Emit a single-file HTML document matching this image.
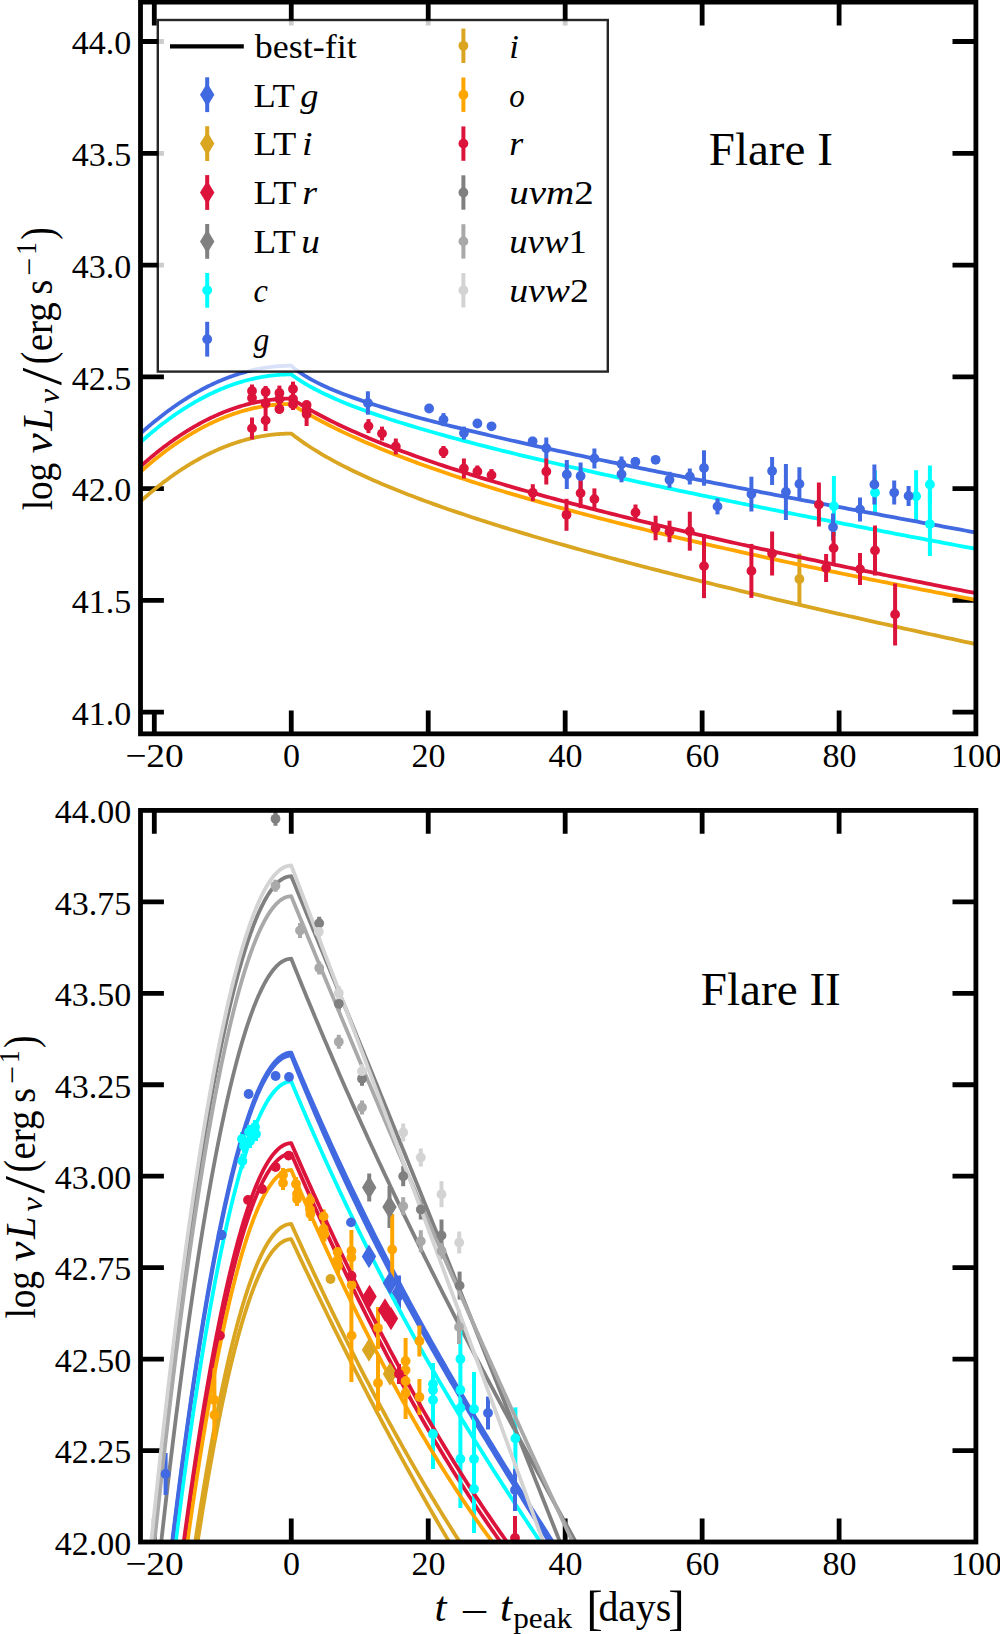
<!DOCTYPE html>
<html><head><meta charset="utf-8"><title>Flare light curves</title>
<style>html,body{margin:0;padding:0;background:#fff}svg{display:block}</style></head>
<body>
<svg width="1000" height="1634" viewBox="0 0 1000 1634">
<rect width="1000" height="1634" fill="#fff"/>
<defs><clipPath id="c1"><rect x="140.5" y="2.1" width="835.4" height="731.8"/></clipPath>
<clipPath id="c2"><rect x="140.5" y="810.4" width="835.4" height="731.6"/></clipPath></defs>
<g stroke="#000" stroke-width="4.8" fill="none"><path d="M154.30,2.10 v23.4 M154.30,733.85 v-23.4"/><path d="M291.26,2.10 v23.4 M291.26,733.85 v-23.4"/><path d="M428.22,2.10 v23.4 M428.22,733.85 v-23.4"/><path d="M565.18,2.10 v23.4 M565.18,733.85 v-23.4"/><path d="M702.14,2.10 v23.4 M702.14,733.85 v-23.4"/><path d="M839.10,2.10 v23.4 M839.10,733.85 v-23.4"/><path d="M140.50,712.21 h23.4 M975.90,712.21 h-23.4"/><path d="M140.50,600.42 h23.4 M975.90,600.42 h-23.4"/><path d="M140.50,488.64 h23.4 M975.90,488.64 h-23.4"/><path d="M140.50,376.86 h23.4 M975.90,376.86 h-23.4"/><path d="M140.50,265.07 h23.4 M975.90,265.07 h-23.4"/><path d="M140.50,153.28 h23.4 M975.90,153.28 h-23.4"/><path d="M140.50,41.50 h23.4 M975.90,41.50 h-23.4"/></g>
<g clip-path="url(#c1)">
<line x1="833.9" y1="476.1" x2="833.9" y2="536.1" stroke="#00FFFF" stroke-width="4"/>
<line x1="875.0" y1="470.6" x2="875.0" y2="514.6" stroke="#00FFFF" stroke-width="4"/>
<line x1="916.1" y1="470.2" x2="916.1" y2="522.2" stroke="#00FFFF" stroke-width="4"/>
<line x1="929.9" y1="465.5" x2="929.9" y2="503.5" stroke="#00FFFF" stroke-width="4"/>
<line x1="929.9" y1="492.1" x2="929.9" y2="556.1" stroke="#00FFFF" stroke-width="4"/>
<path d="M138.50,444.03 L139.46,443.16 L140.42,442.29 L141.38,441.43 L142.34,440.57 L143.30,439.72 L144.26,438.88 L145.23,438.04 L146.19,437.20 L147.15,436.37 L148.11,435.55 L149.07,434.73 L150.03,433.92 L150.99,433.11 L151.95,432.31 L152.91,431.51 L153.87,430.72 L154.83,429.94 L155.79,429.16 L156.75,428.39 L157.72,427.62 L158.68,426.85 L159.64,426.10 L160.60,425.35 L161.56,424.60 L162.52,423.86 L163.48,423.12 L164.44,422.39 L165.40,421.67 L166.36,420.95 L167.32,420.24 L168.28,419.53 L169.24,418.83 L170.20,418.13 L171.17,417.44 L172.13,416.75 L173.09,416.07 L174.05,415.40 L175.01,414.73 L175.97,414.06 L176.93,413.40 L177.89,412.75 L178.85,412.10 L179.81,411.46 L180.77,410.83 L181.73,410.20 L182.69,409.57 L183.66,408.95 L184.62,408.34 L185.58,407.73 L186.54,407.12 L187.50,406.53 L188.46,405.93 L189.42,405.35 L190.38,404.77 L191.34,404.19 L192.30,403.62 L193.26,403.06 L194.22,402.50 L195.18,401.94 L196.15,401.40 L197.11,400.85 L198.07,400.32 L199.03,399.78 L199.99,399.26 L200.95,398.74 L201.91,398.22 L202.87,397.71 L203.83,397.21 L204.79,396.71 L205.75,396.22 L206.71,395.73 L207.67,395.25 L208.64,394.77 L209.60,394.30 L210.56,393.83 L211.52,393.37 L212.48,392.92 L213.44,392.47 L214.40,392.03 L215.36,391.59 L216.32,391.16 L217.28,390.73 L218.24,390.31 L219.20,389.89 L220.16,389.48 L221.12,389.08 L222.09,388.68 L223.05,388.28 L224.01,387.90 L224.97,387.51 L225.93,387.14 L226.89,386.76 L227.85,386.40 L228.81,386.04 L229.77,385.68 L230.73,385.33 L231.69,384.99 L232.65,384.65 L233.61,384.32 L234.58,383.99 L235.54,383.67 L236.50,383.35 L237.46,383.04 L238.42,382.73 L239.38,382.43 L240.34,382.14 L241.30,381.85 L242.26,381.56 L243.22,381.29 L244.18,381.01 L245.14,380.75 L246.10,380.48 L247.07,380.23 L248.03,379.98 L248.99,379.73 L249.95,379.49 L250.91,379.26 L251.87,379.03 L252.83,378.81 L253.79,378.59 L254.75,378.38 L255.71,378.17 L256.67,377.97 L257.63,377.77 L258.59,377.58 L259.56,377.40 L260.52,377.22 L261.48,377.05 L262.44,376.88 L263.40,376.72 L264.36,376.56 L265.32,376.41 L266.28,376.26 L267.24,376.12 L268.20,375.99 L269.16,375.86 L270.12,375.73 L271.08,375.61 L272.04,375.50 L273.01,375.39 L273.97,375.29 L274.93,375.20 L275.89,375.11 L276.85,375.02 L277.81,374.94 L278.77,374.87 L279.73,374.80 L280.69,374.73 L281.65,374.68 L282.61,374.62 L283.57,374.58 L284.53,374.53 L285.50,374.50 L286.46,374.47 L287.42,374.44 L288.38,374.42 L289.34,374.41 L290.30,374.40 L291.26,374.40 L295.58,377.51 L299.90,380.39 L304.22,383.08 L308.53,385.62 L312.85,388.01 L317.17,390.29 L321.49,392.47 L325.81,394.56 L330.13,396.56 L334.44,398.50 L338.76,400.37 L343.08,402.18 L347.40,403.94 L351.72,405.65 L356.04,407.32 L360.36,408.94 L364.67,410.53 L368.99,412.09 L373.31,413.61 L377.63,415.11 L381.95,416.57 L386.27,418.01 L390.59,419.43 L394.90,420.82 L399.22,422.19 L403.54,423.54 L407.86,424.87 L412.18,426.18 L416.50,427.48 L420.81,428.76 L425.13,430.02 L429.45,431.27 L433.77,432.51 L438.09,433.73 L442.41,434.94 L446.73,436.14 L451.04,437.32 L455.36,438.50 L459.68,439.66 L464.00,440.81 L468.32,441.96 L472.64,443.09 L476.96,444.22 L481.27,445.33 L485.59,446.44 L489.91,447.54 L494.23,448.64 L498.55,449.72 L502.87,450.80 L507.18,451.87 L511.50,452.93 L515.82,453.99 L520.14,455.04 L524.46,456.09 L528.78,457.13 L533.10,458.16 L537.41,459.19 L541.73,460.21 L546.05,461.23 L550.37,462.24 L554.69,463.24 L559.01,464.25 L563.32,465.24 L567.64,466.24 L571.96,467.23 L576.28,468.21 L580.60,469.19 L584.92,470.17 L589.24,471.14 L593.55,472.11 L597.87,473.07 L602.19,474.03 L606.51,474.99 L610.83,475.94 L615.15,476.89 L619.47,477.84 L623.78,478.78 L628.10,479.72 L632.42,480.66 L636.74,481.59 L641.06,482.52 L645.38,483.45 L649.69,484.38 L654.01,485.30 L658.33,486.22 L662.65,487.14 L666.97,488.05 L671.29,488.96 L675.61,489.87 L679.92,490.78 L684.24,491.68 L688.56,492.58 L692.88,493.48 L697.20,494.38 L701.52,495.28 L705.84,496.17 L710.15,497.06 L714.47,497.95 L718.79,498.84 L723.11,499.72 L727.43,500.60 L731.75,501.49 L736.06,502.36 L740.38,503.24 L744.70,504.12 L749.02,504.99 L753.34,505.86 L757.66,506.73 L761.98,507.60 L766.29,508.47 L770.61,509.33 L774.93,510.19 L779.25,511.06 L783.57,511.91 L787.89,512.77 L792.20,513.63 L796.52,514.49 L800.84,515.34 L805.16,516.19 L809.48,517.04 L813.80,517.89 L818.12,518.74 L822.43,519.59 L826.75,520.43 L831.07,521.28 L835.39,522.12 L839.71,522.96 L844.03,523.80 L848.35,524.64 L852.66,525.48 L856.98,526.31 L861.30,527.15 L865.62,527.98 L869.94,528.81 L874.26,529.65 L878.57,530.48 L882.89,531.31 L887.21,532.13 L891.53,532.96 L895.85,533.79 L900.17,534.61 L904.49,535.44 L908.80,536.26 L913.12,537.08 L917.44,537.90 L921.76,538.72 L926.08,539.54 L930.40,540.36 L934.72,541.17 L939.03,541.99 L943.35,542.81 L947.67,543.62 L951.99,544.43 L956.31,545.25 L960.63,546.06 L964.94,546.87 L969.26,547.68 L973.58,548.49 L977.90,549.29" stroke="#00FFFF" stroke-width="3.8" fill="none" stroke-linejoin="round"/>
<line x1="367.9" y1="391.3" x2="367.9" y2="414.7" stroke="#4169E1" stroke-width="4"/>
<line x1="429.1" y1="406.5" x2="429.1" y2="410.5" stroke="#4169E1" stroke-width="4"/>
<line x1="443.5" y1="413.1" x2="443.5" y2="426.1" stroke="#4169E1" stroke-width="4"/>
<line x1="463.9" y1="426.6" x2="463.9" y2="439.6" stroke="#4169E1" stroke-width="4"/>
<line x1="477.4" y1="421.5" x2="477.4" y2="425.5" stroke="#4169E1" stroke-width="4"/>
<line x1="491.5" y1="424.3" x2="491.5" y2="428.3" stroke="#4169E1" stroke-width="4"/>
<line x1="532.6" y1="436.8" x2="532.6" y2="445.8" stroke="#4169E1" stroke-width="4"/>
<line x1="546.3" y1="437.5" x2="546.3" y2="458.9" stroke="#4169E1" stroke-width="4"/>
<line x1="566.8" y1="460.0" x2="566.8" y2="489.0" stroke="#4169E1" stroke-width="4"/>
<line x1="580.6" y1="462.5" x2="580.6" y2="489.5" stroke="#4169E1" stroke-width="4"/>
<line x1="594.4" y1="448.5" x2="594.4" y2="468.5" stroke="#4169E1" stroke-width="4"/>
<line x1="621.5" y1="456.5" x2="621.5" y2="471.5" stroke="#4169E1" stroke-width="4"/>
<line x1="621.5" y1="466.3" x2="621.5" y2="482.3" stroke="#4169E1" stroke-width="4"/>
<line x1="635.4" y1="457.3" x2="635.4" y2="466.3" stroke="#4169E1" stroke-width="4"/>
<line x1="655.6" y1="457.8" x2="655.6" y2="461.8" stroke="#4169E1" stroke-width="4"/>
<line x1="669.5" y1="471.8" x2="669.5" y2="487.8" stroke="#4169E1" stroke-width="4"/>
<line x1="689.8" y1="468.5" x2="689.8" y2="484.5" stroke="#4169E1" stroke-width="4"/>
<line x1="704.0" y1="450.3" x2="704.0" y2="485.7" stroke="#4169E1" stroke-width="4"/>
<line x1="717.5" y1="498.4" x2="717.5" y2="514.4" stroke="#4169E1" stroke-width="4"/>
<line x1="751.4" y1="476.7" x2="751.4" y2="511.5" stroke="#4169E1" stroke-width="4"/>
<line x1="772.1" y1="457.0" x2="772.1" y2="485.0" stroke="#4169E1" stroke-width="4"/>
<line x1="785.9" y1="464.0" x2="785.9" y2="520.0" stroke="#4169E1" stroke-width="4"/>
<line x1="799.4" y1="467.3" x2="799.4" y2="500.5" stroke="#4169E1" stroke-width="4"/>
<line x1="833.0" y1="513.6" x2="833.0" y2="540.6" stroke="#4169E1" stroke-width="4"/>
<line x1="860.0" y1="497.4" x2="860.0" y2="521.4" stroke="#4169E1" stroke-width="4"/>
<line x1="874.4" y1="464.5" x2="874.4" y2="504.5" stroke="#4169E1" stroke-width="4"/>
<line x1="894.2" y1="480.6" x2="894.2" y2="504.6" stroke="#4169E1" stroke-width="4"/>
<line x1="908.6" y1="485.9" x2="908.6" y2="505.9" stroke="#4169E1" stroke-width="4"/>
<path d="M138.50,435.33 L139.46,434.46 L140.42,433.59 L141.38,432.73 L142.34,431.87 L143.30,431.02 L144.26,430.18 L145.23,429.34 L146.19,428.50 L147.15,427.67 L148.11,426.85 L149.07,426.03 L150.03,425.22 L150.99,424.41 L151.95,423.61 L152.91,422.81 L153.87,422.02 L154.83,421.24 L155.79,420.46 L156.75,419.69 L157.72,418.92 L158.68,418.15 L159.64,417.40 L160.60,416.65 L161.56,415.90 L162.52,415.16 L163.48,414.42 L164.44,413.69 L165.40,412.97 L166.36,412.25 L167.32,411.54 L168.28,410.83 L169.24,410.13 L170.20,409.43 L171.17,408.74 L172.13,408.05 L173.09,407.37 L174.05,406.70 L175.01,406.03 L175.97,405.36 L176.93,404.70 L177.89,404.05 L178.85,403.40 L179.81,402.76 L180.77,402.13 L181.73,401.50 L182.69,400.87 L183.66,400.25 L184.62,399.64 L185.58,399.03 L186.54,398.42 L187.50,397.83 L188.46,397.23 L189.42,396.65 L190.38,396.07 L191.34,395.49 L192.30,394.92 L193.26,394.36 L194.22,393.80 L195.18,393.24 L196.15,392.70 L197.11,392.15 L198.07,391.62 L199.03,391.08 L199.99,390.56 L200.95,390.04 L201.91,389.52 L202.87,389.01 L203.83,388.51 L204.79,388.01 L205.75,387.52 L206.71,387.03 L207.67,386.55 L208.64,386.07 L209.60,385.60 L210.56,385.13 L211.52,384.67 L212.48,384.22 L213.44,383.77 L214.40,383.33 L215.36,382.89 L216.32,382.46 L217.28,382.03 L218.24,381.61 L219.20,381.19 L220.16,380.78 L221.12,380.38 L222.09,379.98 L223.05,379.58 L224.01,379.20 L224.97,378.81 L225.93,378.44 L226.89,378.06 L227.85,377.70 L228.81,377.34 L229.77,376.98 L230.73,376.63 L231.69,376.29 L232.65,375.95 L233.61,375.62 L234.58,375.29 L235.54,374.97 L236.50,374.65 L237.46,374.34 L238.42,374.03 L239.38,373.73 L240.34,373.44 L241.30,373.15 L242.26,372.86 L243.22,372.59 L244.18,372.31 L245.14,372.05 L246.10,371.78 L247.07,371.53 L248.03,371.28 L248.99,371.03 L249.95,370.79 L250.91,370.56 L251.87,370.33 L252.83,370.11 L253.79,369.89 L254.75,369.68 L255.71,369.47 L256.67,369.27 L257.63,369.07 L258.59,368.88 L259.56,368.70 L260.52,368.52 L261.48,368.35 L262.44,368.18 L263.40,368.02 L264.36,367.86 L265.32,367.71 L266.28,367.56 L267.24,367.42 L268.20,367.29 L269.16,367.16 L270.12,367.03 L271.08,366.91 L272.04,366.80 L273.01,366.69 L273.97,366.59 L274.93,366.50 L275.89,366.41 L276.85,366.32 L277.81,366.24 L278.77,366.17 L279.73,366.10 L280.69,366.03 L281.65,365.98 L282.61,365.92 L283.57,365.88 L284.53,365.83 L285.50,365.80 L286.46,365.77 L287.42,365.74 L288.38,365.72 L289.34,365.71 L290.30,365.70 L291.26,365.70 L295.58,369.34 L299.90,372.53 L304.22,375.39 L308.53,377.99 L312.85,380.40 L317.17,382.65 L321.49,384.76 L325.81,386.76 L330.13,388.67 L334.44,390.49 L338.76,392.24 L343.08,393.92 L347.40,395.55 L351.72,397.13 L356.04,398.66 L360.36,400.15 L364.67,401.61 L368.99,403.03 L373.31,404.42 L377.63,405.78 L381.95,407.12 L386.27,408.43 L390.59,409.72 L394.90,410.99 L399.22,412.23 L403.54,413.46 L407.86,414.68 L412.18,415.88 L416.50,417.06 L420.81,418.23 L425.13,419.38 L429.45,420.52 L433.77,421.65 L438.09,422.77 L442.41,423.88 L446.73,424.98 L451.04,426.07 L455.36,427.15 L459.68,428.21 L464.00,429.28 L468.32,430.33 L472.64,431.38 L476.96,432.41 L481.27,433.44 L485.59,434.47 L489.91,435.49 L494.23,436.50 L498.55,437.50 L502.87,438.50 L507.18,439.50 L511.50,440.48 L515.82,441.47 L520.14,442.44 L524.46,443.42 L528.78,444.39 L533.10,445.35 L537.41,446.31 L541.73,447.26 L546.05,448.21 L550.37,449.16 L554.69,450.10 L559.01,451.04 L563.32,451.98 L567.64,452.91 L571.96,453.84 L576.28,454.77 L580.60,455.69 L584.92,456.61 L589.24,457.52 L593.55,458.43 L597.87,459.34 L602.19,460.25 L606.51,461.15 L610.83,462.06 L615.15,462.95 L619.47,463.85 L623.78,464.74 L628.10,465.64 L632.42,466.52 L636.74,467.41 L641.06,468.30 L645.38,469.18 L649.69,470.06 L654.01,470.94 L658.33,471.81 L662.65,472.68 L666.97,473.56 L671.29,474.43 L675.61,475.29 L679.92,476.16 L684.24,477.02 L688.56,477.89 L692.88,478.75 L697.20,479.61 L701.52,480.46 L705.84,481.32 L710.15,482.17 L714.47,483.02 L718.79,483.87 L723.11,484.72 L727.43,485.57 L731.75,486.42 L736.06,487.26 L740.38,488.11 L744.70,488.95 L749.02,489.79 L753.34,490.63 L757.66,491.47 L761.98,492.30 L766.29,493.14 L770.61,493.97 L774.93,494.81 L779.25,495.64 L783.57,496.47 L787.89,497.30 L792.20,498.13 L796.52,498.95 L800.84,499.78 L805.16,500.60 L809.48,501.43 L813.80,502.25 L818.12,503.07 L822.43,503.89 L826.75,504.71 L831.07,505.53 L835.39,506.35 L839.71,507.17 L844.03,507.98 L848.35,508.80 L852.66,509.61 L856.98,510.43 L861.30,511.24 L865.62,512.05 L869.94,512.86 L874.26,513.67 L878.57,514.48 L882.89,515.29 L887.21,516.09 L891.53,516.90 L895.85,517.71 L900.17,518.51 L904.49,519.31 L908.80,520.12 L913.12,520.92 L917.44,521.72 L921.76,522.52 L926.08,523.32 L930.40,524.12 L934.72,524.92 L939.03,525.72 L943.35,526.52 L947.67,527.31 L951.99,528.11 L956.31,528.91 L960.63,529.70 L964.94,530.50 L969.26,531.29 L973.58,532.08 L977.90,532.87" stroke="#4169E1" stroke-width="3.8" fill="none" stroke-linejoin="round"/>
<line x1="799.4" y1="553.5" x2="799.4" y2="604.5" stroke="#DAA520" stroke-width="4"/>
<path d="M138.50,503.23 L139.46,502.36 L140.42,501.49 L141.38,500.63 L142.34,499.77 L143.30,498.92 L144.26,498.08 L145.23,497.24 L146.19,496.40 L147.15,495.57 L148.11,494.75 L149.07,493.93 L150.03,493.12 L150.99,492.31 L151.95,491.51 L152.91,490.71 L153.87,489.92 L154.83,489.14 L155.79,488.36 L156.75,487.59 L157.72,486.82 L158.68,486.05 L159.64,485.30 L160.60,484.55 L161.56,483.80 L162.52,483.06 L163.48,482.32 L164.44,481.59 L165.40,480.87 L166.36,480.15 L167.32,479.44 L168.28,478.73 L169.24,478.03 L170.20,477.33 L171.17,476.64 L172.13,475.95 L173.09,475.27 L174.05,474.60 L175.01,473.93 L175.97,473.26 L176.93,472.60 L177.89,471.95 L178.85,471.30 L179.81,470.66 L180.77,470.03 L181.73,469.40 L182.69,468.77 L183.66,468.15 L184.62,467.54 L185.58,466.93 L186.54,466.32 L187.50,465.73 L188.46,465.13 L189.42,464.55 L190.38,463.97 L191.34,463.39 L192.30,462.82 L193.26,462.26 L194.22,461.70 L195.18,461.14 L196.15,460.60 L197.11,460.05 L198.07,459.52 L199.03,458.98 L199.99,458.46 L200.95,457.94 L201.91,457.42 L202.87,456.91 L203.83,456.41 L204.79,455.91 L205.75,455.42 L206.71,454.93 L207.67,454.45 L208.64,453.97 L209.60,453.50 L210.56,453.03 L211.52,452.57 L212.48,452.12 L213.44,451.67 L214.40,451.23 L215.36,450.79 L216.32,450.36 L217.28,449.93 L218.24,449.51 L219.20,449.09 L220.16,448.68 L221.12,448.28 L222.09,447.88 L223.05,447.48 L224.01,447.10 L224.97,446.71 L225.93,446.34 L226.89,445.96 L227.85,445.60 L228.81,445.24 L229.77,444.88 L230.73,444.53 L231.69,444.19 L232.65,443.85 L233.61,443.52 L234.58,443.19 L235.54,442.87 L236.50,442.55 L237.46,442.24 L238.42,441.93 L239.38,441.63 L240.34,441.34 L241.30,441.05 L242.26,440.76 L243.22,440.49 L244.18,440.21 L245.14,439.95 L246.10,439.68 L247.07,439.43 L248.03,439.18 L248.99,438.93 L249.95,438.69 L250.91,438.46 L251.87,438.23 L252.83,438.01 L253.79,437.79 L254.75,437.58 L255.71,437.37 L256.67,437.17 L257.63,436.97 L258.59,436.78 L259.56,436.60 L260.52,436.42 L261.48,436.25 L262.44,436.08 L263.40,435.92 L264.36,435.76 L265.32,435.61 L266.28,435.46 L267.24,435.32 L268.20,435.19 L269.16,435.06 L270.12,434.93 L271.08,434.81 L272.04,434.70 L273.01,434.59 L273.97,434.49 L274.93,434.40 L275.89,434.31 L276.85,434.22 L277.81,434.14 L278.77,434.07 L279.73,434.00 L280.69,433.93 L281.65,433.88 L282.61,433.82 L283.57,433.78 L284.53,433.73 L285.50,433.70 L286.46,433.67 L287.42,433.64 L288.38,433.62 L289.34,433.61 L290.30,433.60 L291.26,433.60 L295.58,436.91 L299.90,440.06 L304.22,443.07 L308.53,445.97 L312.85,448.75 L317.17,451.43 L321.49,454.02 L325.81,456.53 L330.13,458.97 L334.44,461.33 L338.76,463.63 L343.08,465.87 L347.40,468.06 L351.72,470.19 L356.04,472.27 L360.36,474.31 L364.67,476.31 L368.99,478.27 L373.31,480.19 L377.63,482.08 L381.95,483.93 L386.27,485.75 L390.59,487.54 L394.90,489.30 L399.22,491.04 L403.54,492.75 L407.86,494.44 L412.18,496.10 L416.50,497.74 L420.81,499.36 L425.13,500.96 L429.45,502.54 L433.77,504.10 L438.09,505.64 L442.41,507.17 L446.73,508.68 L451.04,510.18 L455.36,511.66 L459.68,513.12 L464.00,514.57 L468.32,516.01 L472.64,517.43 L476.96,518.84 L481.27,520.24 L485.59,521.63 L489.91,523.00 L494.23,524.37 L498.55,525.72 L502.87,527.07 L507.18,528.40 L511.50,529.72 L515.82,531.04 L520.14,532.34 L524.46,533.64 L528.78,534.93 L533.10,536.21 L537.41,537.48 L541.73,538.74 L546.05,540.00 L550.37,541.24 L554.69,542.48 L559.01,543.72 L563.32,544.94 L567.64,546.16 L571.96,547.37 L576.28,548.58 L580.60,549.78 L584.92,550.97 L589.24,552.16 L593.55,553.34 L597.87,554.52 L602.19,555.69 L606.51,556.86 L610.83,558.02 L615.15,559.17 L619.47,560.32 L623.78,561.46 L628.10,562.60 L632.42,563.74 L636.74,564.87 L641.06,566.00 L645.38,567.12 L649.69,568.23 L654.01,569.35 L658.33,570.45 L662.65,571.56 L666.97,572.66 L671.29,573.75 L675.61,574.84 L679.92,575.93 L684.24,577.02 L688.56,578.10 L692.88,579.18 L697.20,580.25 L701.52,581.32 L705.84,582.39 L710.15,583.45 L714.47,584.51 L718.79,585.57 L723.11,586.62 L727.43,587.67 L731.75,588.72 L736.06,589.76 L740.38,590.80 L744.70,591.84 L749.02,592.88 L753.34,593.91 L757.66,594.94 L761.98,595.96 L766.29,596.99 L770.61,598.01 L774.93,599.03 L779.25,600.05 L783.57,601.06 L787.89,602.07 L792.20,603.08 L796.52,604.09 L800.84,605.09 L805.16,606.09 L809.48,607.09 L813.80,608.09 L818.12,609.09 L822.43,610.08 L826.75,611.07 L831.07,612.06 L835.39,613.04 L839.71,614.03 L844.03,615.01 L848.35,615.99 L852.66,616.97 L856.98,617.94 L861.30,618.92 L865.62,619.89 L869.94,620.86 L874.26,621.83 L878.57,622.80 L882.89,623.76 L887.21,624.72 L891.53,625.69 L895.85,626.65 L900.17,627.60 L904.49,628.56 L908.80,629.51 L913.12,630.47 L917.44,631.42 L921.76,632.37 L926.08,633.32 L930.40,634.26 L934.72,635.21 L939.03,636.15 L943.35,637.09 L947.67,638.03 L951.99,638.97 L956.31,639.91 L960.63,640.84 L964.94,641.78 L969.26,642.71 L973.58,643.64 L977.90,644.57" stroke="#DAA520" stroke-width="3.8" fill="none" stroke-linejoin="round"/>

<path d="M138.50,473.63 L139.46,472.76 L140.42,471.89 L141.38,471.03 L142.34,470.17 L143.30,469.32 L144.26,468.48 L145.23,467.64 L146.19,466.80 L147.15,465.97 L148.11,465.15 L149.07,464.33 L150.03,463.52 L150.99,462.71 L151.95,461.91 L152.91,461.11 L153.87,460.32 L154.83,459.54 L155.79,458.76 L156.75,457.99 L157.72,457.22 L158.68,456.45 L159.64,455.70 L160.60,454.95 L161.56,454.20 L162.52,453.46 L163.48,452.72 L164.44,451.99 L165.40,451.27 L166.36,450.55 L167.32,449.84 L168.28,449.13 L169.24,448.43 L170.20,447.73 L171.17,447.04 L172.13,446.35 L173.09,445.67 L174.05,445.00 L175.01,444.33 L175.97,443.66 L176.93,443.00 L177.89,442.35 L178.85,441.70 L179.81,441.06 L180.77,440.43 L181.73,439.80 L182.69,439.17 L183.66,438.55 L184.62,437.94 L185.58,437.33 L186.54,436.72 L187.50,436.13 L188.46,435.53 L189.42,434.95 L190.38,434.37 L191.34,433.79 L192.30,433.22 L193.26,432.66 L194.22,432.10 L195.18,431.54 L196.15,431.00 L197.11,430.45 L198.07,429.92 L199.03,429.38 L199.99,428.86 L200.95,428.34 L201.91,427.82 L202.87,427.31 L203.83,426.81 L204.79,426.31 L205.75,425.82 L206.71,425.33 L207.67,424.85 L208.64,424.37 L209.60,423.90 L210.56,423.43 L211.52,422.97 L212.48,422.52 L213.44,422.07 L214.40,421.63 L215.36,421.19 L216.32,420.76 L217.28,420.33 L218.24,419.91 L219.20,419.49 L220.16,419.08 L221.12,418.68 L222.09,418.28 L223.05,417.88 L224.01,417.50 L224.97,417.11 L225.93,416.74 L226.89,416.36 L227.85,416.00 L228.81,415.64 L229.77,415.28 L230.73,414.93 L231.69,414.59 L232.65,414.25 L233.61,413.92 L234.58,413.59 L235.54,413.27 L236.50,412.95 L237.46,412.64 L238.42,412.33 L239.38,412.03 L240.34,411.74 L241.30,411.45 L242.26,411.16 L243.22,410.89 L244.18,410.61 L245.14,410.35 L246.10,410.08 L247.07,409.83 L248.03,409.58 L248.99,409.33 L249.95,409.09 L250.91,408.86 L251.87,408.63 L252.83,408.41 L253.79,408.19 L254.75,407.98 L255.71,407.77 L256.67,407.57 L257.63,407.37 L258.59,407.18 L259.56,407.00 L260.52,406.82 L261.48,406.65 L262.44,406.48 L263.40,406.32 L264.36,406.16 L265.32,406.01 L266.28,405.86 L267.24,405.72 L268.20,405.59 L269.16,405.46 L270.12,405.33 L271.08,405.21 L272.04,405.10 L273.01,404.99 L273.97,404.89 L274.93,404.80 L275.89,404.71 L276.85,404.62 L277.81,404.54 L278.77,404.47 L279.73,404.40 L280.69,404.33 L281.65,404.28 L282.61,404.22 L283.57,404.18 L284.53,404.13 L285.50,404.10 L286.46,404.07 L287.42,404.04 L288.38,404.02 L289.34,404.01 L290.30,404.00 L291.26,404.00 L295.58,406.67 L299.90,409.26 L304.22,411.79 L308.53,414.25 L312.85,416.66 L317.17,419.00 L321.49,421.30 L325.81,423.55 L330.13,425.75 L334.44,427.90 L338.76,430.01 L343.08,432.09 L347.40,434.12 L351.72,436.12 L356.04,438.08 L360.36,440.01 L364.67,441.91 L368.99,443.77 L373.31,445.61 L377.63,447.42 L381.95,449.20 L386.27,450.96 L390.59,452.69 L394.90,454.39 L399.22,456.08 L403.54,457.74 L407.86,459.38 L412.18,461.00 L416.50,462.60 L420.81,464.18 L425.13,465.75 L429.45,467.29 L433.77,468.82 L438.09,470.33 L442.41,471.82 L446.73,473.30 L451.04,474.76 L455.36,476.21 L459.68,477.64 L464.00,479.06 L468.32,480.47 L472.64,481.86 L476.96,483.24 L481.27,484.61 L485.59,485.96 L489.91,487.31 L494.23,488.64 L498.55,489.96 L502.87,491.27 L507.18,492.57 L511.50,493.86 L515.82,495.14 L520.14,496.40 L524.46,497.66 L528.78,498.91 L533.10,500.15 L537.41,501.39 L541.73,502.61 L546.05,503.82 L550.37,505.03 L554.69,506.23 L559.01,507.42 L563.32,508.60 L567.64,509.77 L571.96,510.94 L576.28,512.10 L580.60,513.25 L584.92,514.39 L589.24,515.53 L593.55,516.66 L597.87,517.79 L602.19,518.91 L606.51,520.02 L610.83,521.12 L615.15,522.22 L619.47,523.32 L623.78,524.40 L628.10,525.49 L632.42,526.56 L636.74,527.63 L641.06,528.70 L645.38,529.76 L649.69,530.81 L654.01,531.86 L658.33,532.91 L662.65,533.95 L666.97,534.98 L671.29,536.01 L675.61,537.03 L679.92,538.06 L684.24,539.07 L688.56,540.08 L692.88,541.09 L697.20,542.09 L701.52,543.09 L705.84,544.08 L710.15,545.07 L714.47,546.06 L718.79,547.04 L723.11,548.02 L727.43,548.99 L731.75,549.96 L736.06,550.93 L740.38,551.89 L744.70,552.85 L749.02,553.80 L753.34,554.75 L757.66,555.70 L761.98,556.65 L766.29,557.59 L770.61,558.53 L774.93,559.46 L779.25,560.39 L783.57,561.32 L787.89,562.24 L792.20,563.17 L796.52,564.08 L800.84,565.00 L805.16,565.91 L809.48,566.82 L813.80,567.73 L818.12,568.63 L822.43,569.53 L826.75,570.43 L831.07,571.33 L835.39,572.22 L839.71,573.11 L844.03,574.00 L848.35,574.88 L852.66,575.76 L856.98,576.64 L861.30,577.52 L865.62,578.39 L869.94,579.27 L874.26,580.13 L878.57,581.00 L882.89,581.87 L887.21,582.73 L891.53,583.59 L895.85,584.45 L900.17,585.30 L904.49,586.15 L908.80,587.01 L913.12,587.85 L917.44,588.70 L921.76,589.55 L926.08,590.39 L930.40,591.23 L934.72,592.07 L939.03,592.90 L943.35,593.74 L947.67,594.57 L951.99,595.40 L956.31,596.23 L960.63,597.05 L964.94,597.88 L969.26,598.70 L973.58,599.52 L977.90,600.34" stroke="#FFA500" stroke-width="3.8" fill="none" stroke-linejoin="round"/>
<line x1="252.0" y1="384.4" x2="252.0" y2="404.0" stroke="#DC143C" stroke-width="4"/>
<line x1="252.0" y1="417.4" x2="252.0" y2="439.4" stroke="#DC143C" stroke-width="4"/>
<line x1="265.6" y1="386.0" x2="265.6" y2="431.0" stroke="#DC143C" stroke-width="4"/>
<line x1="279.4" y1="385.6" x2="279.4" y2="413.6" stroke="#DC143C" stroke-width="4"/>
<line x1="293.0" y1="381.6" x2="293.0" y2="410.0" stroke="#DC143C" stroke-width="4"/>
<line x1="306.6" y1="401.0" x2="306.6" y2="426.0" stroke="#DC143C" stroke-width="4"/>
<line x1="368.5" y1="419.1" x2="368.5" y2="433.1" stroke="#DC143C" stroke-width="4"/>
<line x1="382.0" y1="426.6" x2="382.0" y2="440.6" stroke="#DC143C" stroke-width="4"/>
<line x1="395.8" y1="438.5" x2="395.8" y2="454.5" stroke="#DC143C" stroke-width="4"/>
<line x1="443.5" y1="446.0" x2="443.5" y2="458.0" stroke="#DC143C" stroke-width="4"/>
<line x1="463.9" y1="458.5" x2="463.9" y2="478.5" stroke="#DC143C" stroke-width="4"/>
<line x1="477.4" y1="465.5" x2="477.4" y2="477.5" stroke="#DC143C" stroke-width="4"/>
<line x1="491.5" y1="469.1" x2="491.5" y2="481.1" stroke="#DC143C" stroke-width="4"/>
<line x1="532.8" y1="484.2" x2="532.8" y2="501.2" stroke="#DC143C" stroke-width="4"/>
<line x1="546.3" y1="458.5" x2="546.3" y2="484.5" stroke="#DC143C" stroke-width="4"/>
<line x1="566.5" y1="498.8" x2="566.5" y2="530.8" stroke="#DC143C" stroke-width="4"/>
<line x1="580.6" y1="478.1" x2="580.6" y2="508.1" stroke="#DC143C" stroke-width="4"/>
<line x1="594.4" y1="488.4" x2="594.4" y2="509.8" stroke="#DC143C" stroke-width="4"/>
<line x1="635.5" y1="504.5" x2="635.5" y2="520.5" stroke="#DC143C" stroke-width="4"/>
<line x1="655.6" y1="515.7" x2="655.6" y2="540.3" stroke="#DC143C" stroke-width="4"/>
<line x1="669.5" y1="520.7" x2="669.5" y2="542.3" stroke="#DC143C" stroke-width="4"/>
<line x1="689.8" y1="511.7" x2="689.8" y2="550.7" stroke="#DC143C" stroke-width="4"/>
<line x1="704.0" y1="534.1" x2="704.0" y2="598.1" stroke="#DC143C" stroke-width="4"/>
<line x1="751.4" y1="543.9" x2="751.4" y2="597.9" stroke="#DC143C" stroke-width="4"/>
<line x1="772.1" y1="531.5" x2="772.1" y2="575.5" stroke="#DC143C" stroke-width="4"/>
<line x1="818.9" y1="482.6" x2="818.9" y2="526.6" stroke="#DC143C" stroke-width="4"/>
<line x1="826.1" y1="553.9" x2="826.1" y2="581.9" stroke="#DC143C" stroke-width="4"/>
<line x1="833.6" y1="532.1" x2="833.6" y2="564.1" stroke="#DC143C" stroke-width="4"/>
<line x1="860.0" y1="553.1" x2="860.0" y2="585.1" stroke="#DC143C" stroke-width="4"/>
<line x1="875.0" y1="525.5" x2="875.0" y2="575.5" stroke="#DC143C" stroke-width="4"/>
<line x1="895.1" y1="583.4" x2="895.1" y2="645.4" stroke="#DC143C" stroke-width="4"/>
<path d="M138.50,468.23 L139.46,467.36 L140.42,466.49 L141.38,465.63 L142.34,464.77 L143.30,463.92 L144.26,463.08 L145.23,462.24 L146.19,461.40 L147.15,460.57 L148.11,459.75 L149.07,458.93 L150.03,458.12 L150.99,457.31 L151.95,456.51 L152.91,455.71 L153.87,454.92 L154.83,454.14 L155.79,453.36 L156.75,452.59 L157.72,451.82 L158.68,451.05 L159.64,450.30 L160.60,449.55 L161.56,448.80 L162.52,448.06 L163.48,447.32 L164.44,446.59 L165.40,445.87 L166.36,445.15 L167.32,444.44 L168.28,443.73 L169.24,443.03 L170.20,442.33 L171.17,441.64 L172.13,440.95 L173.09,440.27 L174.05,439.60 L175.01,438.93 L175.97,438.26 L176.93,437.60 L177.89,436.95 L178.85,436.30 L179.81,435.66 L180.77,435.03 L181.73,434.40 L182.69,433.77 L183.66,433.15 L184.62,432.54 L185.58,431.93 L186.54,431.32 L187.50,430.73 L188.46,430.13 L189.42,429.55 L190.38,428.97 L191.34,428.39 L192.30,427.82 L193.26,427.26 L194.22,426.70 L195.18,426.14 L196.15,425.60 L197.11,425.05 L198.07,424.52 L199.03,423.98 L199.99,423.46 L200.95,422.94 L201.91,422.42 L202.87,421.91 L203.83,421.41 L204.79,420.91 L205.75,420.42 L206.71,419.93 L207.67,419.45 L208.64,418.97 L209.60,418.50 L210.56,418.03 L211.52,417.57 L212.48,417.12 L213.44,416.67 L214.40,416.23 L215.36,415.79 L216.32,415.36 L217.28,414.93 L218.24,414.51 L219.20,414.09 L220.16,413.68 L221.12,413.28 L222.09,412.88 L223.05,412.48 L224.01,412.10 L224.97,411.71 L225.93,411.34 L226.89,410.96 L227.85,410.60 L228.81,410.24 L229.77,409.88 L230.73,409.53 L231.69,409.19 L232.65,408.85 L233.61,408.52 L234.58,408.19 L235.54,407.87 L236.50,407.55 L237.46,407.24 L238.42,406.93 L239.38,406.63 L240.34,406.34 L241.30,406.05 L242.26,405.76 L243.22,405.49 L244.18,405.21 L245.14,404.95 L246.10,404.68 L247.07,404.43 L248.03,404.18 L248.99,403.93 L249.95,403.69 L250.91,403.46 L251.87,403.23 L252.83,403.01 L253.79,402.79 L254.75,402.58 L255.71,402.37 L256.67,402.17 L257.63,401.97 L258.59,401.78 L259.56,401.60 L260.52,401.42 L261.48,401.25 L262.44,401.08 L263.40,400.92 L264.36,400.76 L265.32,400.61 L266.28,400.46 L267.24,400.32 L268.20,400.19 L269.16,400.06 L270.12,399.93 L271.08,399.81 L272.04,399.70 L273.01,399.59 L273.97,399.49 L274.93,399.40 L275.89,399.31 L276.85,399.22 L277.81,399.14 L278.77,399.07 L279.73,399.00 L280.69,398.93 L281.65,398.88 L282.61,398.82 L283.57,398.78 L284.53,398.73 L285.50,398.70 L286.46,398.67 L287.42,398.64 L288.38,398.62 L289.34,398.61 L290.30,398.60 L291.26,398.60 L295.58,401.32 L299.90,403.96 L304.22,406.52 L308.53,409.00 L312.85,411.41 L317.17,413.76 L321.49,416.05 L325.81,418.28 L330.13,420.46 L334.44,422.58 L338.76,424.67 L343.08,426.71 L347.40,428.70 L351.72,430.66 L356.04,432.58 L360.36,434.47 L364.67,436.32 L368.99,438.14 L373.31,439.93 L377.63,441.69 L381.95,443.43 L386.27,445.14 L390.59,446.82 L394.90,448.48 L399.22,450.11 L403.54,451.73 L407.86,453.32 L412.18,454.89 L416.50,456.45 L420.81,457.98 L425.13,459.50 L429.45,460.99 L433.77,462.48 L438.09,463.94 L442.41,465.39 L446.73,466.83 L451.04,468.25 L455.36,469.65 L459.68,471.05 L464.00,472.42 L468.32,473.79 L472.64,475.14 L476.96,476.49 L481.27,477.82 L485.59,479.14 L489.91,480.44 L494.23,481.74 L498.55,483.03 L502.87,484.30 L507.18,485.57 L511.50,486.83 L515.82,488.08 L520.14,489.31 L524.46,490.54 L528.78,491.77 L533.10,492.98 L537.41,494.18 L541.73,495.38 L546.05,496.57 L550.37,497.75 L554.69,498.93 L559.01,500.09 L563.32,501.25 L567.64,502.41 L571.96,503.55 L576.28,504.69 L580.60,505.83 L584.92,506.95 L589.24,508.07 L593.55,509.19 L597.87,510.30 L602.19,511.40 L606.51,512.50 L610.83,513.59 L615.15,514.68 L619.47,515.76 L623.78,516.83 L628.10,517.90 L632.42,518.97 L636.74,520.03 L641.06,521.09 L645.38,522.14 L649.69,523.19 L654.01,524.23 L658.33,525.27 L662.65,526.30 L666.97,527.33 L671.29,528.35 L675.61,529.38 L679.92,530.39 L684.24,531.41 L688.56,532.41 L692.88,533.42 L697.20,534.42 L701.52,535.42 L705.84,536.41 L710.15,537.40 L714.47,538.39 L718.79,539.37 L723.11,540.35 L727.43,541.33 L731.75,542.30 L736.06,543.27 L740.38,544.24 L744.70,545.20 L749.02,546.16 L753.34,547.12 L757.66,548.07 L761.98,549.03 L766.29,549.97 L770.61,550.92 L774.93,551.86 L779.25,552.80 L783.57,553.74 L787.89,554.67 L792.20,555.60 L796.52,556.53 L800.84,557.46 L805.16,558.38 L809.48,559.31 L813.80,560.22 L818.12,561.14 L822.43,562.05 L826.75,562.97 L831.07,563.88 L835.39,564.78 L839.71,565.69 L844.03,566.59 L848.35,567.49 L852.66,568.39 L856.98,569.28 L861.30,570.18 L865.62,571.07 L869.94,571.96 L874.26,572.84 L878.57,573.73 L882.89,574.61 L887.21,575.49 L891.53,576.37 L895.85,577.25 L900.17,578.13 L904.49,579.00 L908.80,579.87 L913.12,580.74 L917.44,581.61 L921.76,582.48 L926.08,583.34 L930.40,584.20 L934.72,585.06 L939.03,585.92 L943.35,586.78 L947.67,587.64 L951.99,588.49 L956.31,589.34 L960.63,590.19 L964.94,591.04 L969.26,591.89 L973.58,592.73 L977.90,593.58" stroke="#DC143C" stroke-width="3.8" fill="none" stroke-linejoin="round"/>
<circle cx="833.9" cy="506.1" r="4.9" fill="#00FFFF"/>
<circle cx="875.0" cy="492.6" r="4.9" fill="#00FFFF"/>
<circle cx="916.1" cy="496.2" r="4.9" fill="#00FFFF"/>
<circle cx="929.9" cy="484.5" r="4.9" fill="#00FFFF"/>
<circle cx="929.9" cy="524.1" r="4.9" fill="#00FFFF"/>
<circle cx="367.9" cy="403.0" r="4.9" fill="#4169E1"/>
<circle cx="429.1" cy="408.5" r="4.9" fill="#4169E1"/>
<circle cx="443.5" cy="419.6" r="4.9" fill="#4169E1"/>
<circle cx="463.9" cy="433.1" r="4.9" fill="#4169E1"/>
<circle cx="477.4" cy="423.5" r="4.9" fill="#4169E1"/>
<circle cx="491.5" cy="426.3" r="4.9" fill="#4169E1"/>
<circle cx="532.6" cy="441.3" r="4.9" fill="#4169E1"/>
<circle cx="546.3" cy="448.2" r="4.9" fill="#4169E1"/>
<circle cx="566.8" cy="474.5" r="4.9" fill="#4169E1"/>
<circle cx="580.6" cy="476.0" r="4.9" fill="#4169E1"/>
<circle cx="594.4" cy="458.5" r="4.9" fill="#4169E1"/>
<circle cx="621.5" cy="464.0" r="4.9" fill="#4169E1"/>
<circle cx="621.5" cy="474.3" r="4.9" fill="#4169E1"/>
<circle cx="635.4" cy="461.8" r="4.9" fill="#4169E1"/>
<circle cx="655.6" cy="459.8" r="4.9" fill="#4169E1"/>
<circle cx="669.5" cy="479.8" r="4.9" fill="#4169E1"/>
<circle cx="689.8" cy="476.5" r="4.9" fill="#4169E1"/>
<circle cx="704.0" cy="468.0" r="4.9" fill="#4169E1"/>
<circle cx="717.5" cy="506.4" r="4.9" fill="#4169E1"/>
<circle cx="751.4" cy="494.1" r="4.9" fill="#4169E1"/>
<circle cx="772.1" cy="471.0" r="4.9" fill="#4169E1"/>
<circle cx="785.9" cy="492.0" r="4.9" fill="#4169E1"/>
<circle cx="799.4" cy="483.9" r="4.9" fill="#4169E1"/>
<circle cx="833.0" cy="527.1" r="4.9" fill="#4169E1"/>
<circle cx="860.0" cy="509.4" r="4.9" fill="#4169E1"/>
<circle cx="874.4" cy="484.5" r="4.9" fill="#4169E1"/>
<circle cx="894.2" cy="492.6" r="4.9" fill="#4169E1"/>
<circle cx="908.6" cy="495.9" r="4.9" fill="#4169E1"/>
<circle cx="799.4" cy="579.0" r="4.9" fill="#DAA520"/>

<circle cx="252.0" cy="391.0" r="4.9" fill="#DC143C"/>
<circle cx="252.0" cy="398.0" r="4.9" fill="#DC143C"/>
<circle cx="252.0" cy="428.4" r="4.9" fill="#DC143C"/>
<circle cx="265.6" cy="392.0" r="4.9" fill="#DC143C"/>
<circle cx="265.6" cy="403.6" r="4.9" fill="#DC143C"/>
<circle cx="265.6" cy="420.4" r="4.9" fill="#DC143C"/>
<circle cx="279.4" cy="393.0" r="4.9" fill="#DC143C"/>
<circle cx="279.4" cy="399.0" r="4.9" fill="#DC143C"/>
<circle cx="279.4" cy="409.0" r="4.9" fill="#DC143C"/>
<circle cx="293.0" cy="389.0" r="4.9" fill="#DC143C"/>
<circle cx="293.0" cy="399.0" r="4.9" fill="#DC143C"/>
<circle cx="293.0" cy="404.4" r="4.9" fill="#DC143C"/>
<circle cx="306.6" cy="405.0" r="4.9" fill="#DC143C"/>
<circle cx="306.6" cy="410.0" r="4.9" fill="#DC143C"/>
<circle cx="306.6" cy="414.0" r="4.9" fill="#DC143C"/>
<circle cx="368.5" cy="426.1" r="4.9" fill="#DC143C"/>
<circle cx="382.0" cy="433.6" r="4.9" fill="#DC143C"/>
<circle cx="395.8" cy="446.5" r="4.9" fill="#DC143C"/>
<circle cx="443.5" cy="452.0" r="4.9" fill="#DC143C"/>
<circle cx="463.9" cy="468.5" r="4.9" fill="#DC143C"/>
<circle cx="477.4" cy="471.5" r="4.9" fill="#DC143C"/>
<circle cx="491.5" cy="475.1" r="4.9" fill="#DC143C"/>
<circle cx="532.8" cy="492.7" r="4.9" fill="#DC143C"/>
<circle cx="546.3" cy="471.5" r="4.9" fill="#DC143C"/>
<circle cx="566.5" cy="514.8" r="4.9" fill="#DC143C"/>
<circle cx="580.6" cy="493.1" r="4.9" fill="#DC143C"/>
<circle cx="594.4" cy="499.1" r="4.9" fill="#DC143C"/>
<circle cx="635.5" cy="512.5" r="4.9" fill="#DC143C"/>
<circle cx="655.6" cy="528.0" r="4.9" fill="#DC143C"/>
<circle cx="669.5" cy="531.5" r="4.9" fill="#DC143C"/>
<circle cx="689.8" cy="531.2" r="4.9" fill="#DC143C"/>
<circle cx="704.0" cy="566.1" r="4.9" fill="#DC143C"/>
<circle cx="751.4" cy="570.9" r="4.9" fill="#DC143C"/>
<circle cx="772.1" cy="553.5" r="4.9" fill="#DC143C"/>
<circle cx="818.9" cy="504.6" r="4.9" fill="#DC143C"/>
<circle cx="826.1" cy="567.9" r="4.9" fill="#DC143C"/>
<circle cx="833.6" cy="548.1" r="4.9" fill="#DC143C"/>
<circle cx="860.0" cy="569.1" r="4.9" fill="#DC143C"/>
<circle cx="875.0" cy="550.5" r="4.9" fill="#DC143C"/>
<circle cx="895.1" cy="614.4" r="4.9" fill="#DC143C"/>
</g>
<rect x="140.50" y="2.10" width="835.40" height="731.75" fill="none" stroke="#000" stroke-width="4.8"/>
<g stroke="#000" stroke-width="4.8" fill="none"><path d="M154.30,810.40 v23.4 M154.30,1542.00 v-23.4"/><path d="M291.26,810.40 v23.4 M291.26,1542.00 v-23.4"/><path d="M428.22,810.40 v23.4 M428.22,1542.00 v-23.4"/><path d="M565.18,810.40 v23.4 M565.18,1542.00 v-23.4"/><path d="M702.14,810.40 v23.4 M702.14,1542.00 v-23.4"/><path d="M839.10,810.40 v23.4 M839.10,1542.00 v-23.4"/><path d="M140.50,1450.55 h23.4 M975.90,1450.55 h-23.4"/><path d="M140.50,1359.10 h23.4 M975.90,1359.10 h-23.4"/><path d="M140.50,1267.65 h23.4 M975.90,1267.65 h-23.4"/><path d="M140.50,1176.20 h23.4 M975.90,1176.20 h-23.4"/><path d="M140.50,1084.75 h23.4 M975.90,1084.75 h-23.4"/><path d="M140.50,993.30 h23.4 M975.90,993.30 h-23.4"/><path d="M140.50,901.85 h23.4 M975.90,901.85 h-23.4"/></g>
<g clip-path="url(#c2)">
<line x1="369.0" y1="1251.4" x2="369.0" y2="1261.4" stroke="#4169E1" stroke-width="4"/>
<line x1="390.0" y1="1278.0" x2="390.0" y2="1288.0" stroke="#4169E1" stroke-width="4"/>
<line x1="399.0" y1="1275.5" x2="399.0" y2="1309.5" stroke="#4169E1" stroke-width="4"/>
<path d="M138.50,1860.68 L139.46,1850.58 L140.42,1840.55 L141.38,1830.59 L142.34,1820.68 L143.30,1810.84 L144.26,1801.06 L145.23,1791.35 L146.19,1781.70 L147.15,1772.12 L148.11,1762.60 L149.07,1753.14 L150.03,1743.74 L150.99,1734.41 L151.95,1725.15 L152.91,1715.94 L153.87,1706.80 L154.83,1697.73 L155.79,1688.71 L156.75,1679.77 L157.72,1670.88 L158.68,1662.06 L159.64,1653.30 L160.60,1644.61 L161.56,1635.98 L162.52,1627.41 L163.48,1618.91 L164.44,1610.47 L165.40,1602.10 L166.36,1593.78 L167.32,1585.54 L168.28,1577.35 L169.24,1569.23 L170.20,1561.17 L171.17,1553.18 L172.13,1545.25 L173.09,1537.39 L174.05,1529.58 L175.01,1521.85 L175.97,1514.17 L176.93,1506.56 L177.89,1499.01 L178.85,1491.53 L179.81,1484.11 L180.77,1476.75 L181.73,1469.46 L182.69,1462.23 L183.66,1455.07 L184.62,1447.96 L185.58,1440.93 L186.54,1433.95 L187.50,1427.04 L188.46,1420.20 L189.42,1413.41 L190.38,1406.69 L191.34,1400.04 L192.30,1393.45 L193.26,1386.92 L194.22,1380.45 L195.18,1374.05 L196.15,1367.71 L197.11,1361.44 L198.07,1355.23 L199.03,1349.09 L199.99,1343.00 L200.95,1336.98 L201.91,1331.03 L202.87,1325.14 L203.83,1319.31 L204.79,1313.55 L205.75,1307.85 L206.71,1302.21 L207.67,1296.64 L208.64,1291.13 L209.60,1285.68 L210.56,1280.30 L211.52,1274.98 L212.48,1269.73 L213.44,1264.54 L214.40,1259.41 L215.36,1254.35 L216.32,1249.35 L217.28,1244.41 L218.24,1239.54 L219.20,1234.73 L220.16,1229.98 L221.12,1225.30 L222.09,1220.69 L223.05,1216.13 L224.01,1211.64 L224.97,1207.22 L225.93,1202.85 L226.89,1198.55 L227.85,1194.32 L228.81,1190.15 L229.77,1186.04 L230.73,1181.99 L231.69,1178.01 L232.65,1174.10 L233.61,1170.24 L234.58,1166.45 L235.54,1162.73 L236.50,1159.07 L237.46,1155.47 L238.42,1151.93 L239.38,1148.46 L240.34,1145.05 L241.30,1141.71 L242.26,1138.43 L243.22,1135.21 L244.18,1132.06 L245.14,1128.97 L246.10,1125.95 L247.07,1122.98 L248.03,1120.09 L248.99,1117.25 L249.95,1114.48 L250.91,1111.77 L251.87,1109.13 L252.83,1106.55 L253.79,1104.04 L254.75,1101.58 L255.71,1099.20 L256.67,1096.87 L257.63,1094.61 L258.59,1092.41 L259.56,1090.28 L260.52,1088.21 L261.48,1086.20 L262.44,1084.26 L263.40,1082.38 L264.36,1080.57 L265.32,1078.82 L266.28,1077.13 L267.24,1075.50 L268.20,1073.94 L269.16,1072.45 L270.12,1071.01 L271.08,1069.64 L272.04,1068.34 L273.01,1067.10 L273.97,1065.92 L274.93,1064.80 L275.89,1063.75 L276.85,1062.77 L277.81,1061.84 L278.77,1060.98 L279.73,1060.19 L280.69,1059.45 L281.65,1058.78 L282.61,1058.18 L283.57,1057.64 L284.53,1057.16 L285.50,1056.75 L286.46,1056.40 L287.42,1056.11 L288.38,1055.89 L289.34,1055.73 L290.30,1055.63 L291.26,1055.60 L293.45,1061.10 L295.65,1066.56 L297.84,1071.99 L300.03,1077.38 L302.23,1082.73 L304.42,1088.05 L306.61,1093.33 L308.81,1098.58 L311.00,1103.80 L313.19,1108.98 L315.39,1114.13 L317.58,1119.24 L319.77,1124.33 L321.97,1129.38 L324.16,1134.39 L326.35,1139.38 L328.55,1144.33 L330.74,1149.26 L332.93,1154.15 L335.13,1159.01 L337.32,1163.85 L339.51,1168.65 L341.71,1173.42 L343.90,1178.17 L346.09,1182.88 L348.29,1187.57 L350.48,1192.23 L352.67,1196.86 L354.87,1201.46 L357.06,1206.04 L359.25,1210.59 L361.45,1215.12 L363.64,1219.62 L365.83,1224.09 L368.03,1228.54 L370.22,1232.96 L372.41,1237.36 L374.61,1241.73 L376.80,1246.08 L378.99,1250.41 L381.19,1254.71 L383.38,1258.99 L385.57,1263.25 L387.77,1267.48 L389.96,1271.69 L392.15,1275.89 L394.35,1280.06 L396.54,1284.21 L398.73,1288.34 L400.93,1292.45 L403.12,1296.53 L405.31,1300.60 L407.51,1304.66 L409.70,1308.69 L411.89,1312.70 L414.09,1316.70 L416.28,1320.67 L418.47,1324.63 L420.67,1328.58 L422.86,1332.50 L425.05,1336.41 L427.25,1340.31 L429.44,1344.18 L431.63,1348.05 L433.83,1351.89 L436.02,1355.73 L438.21,1359.55 L440.41,1363.35 L442.60,1367.14 L444.79,1370.92 L446.99,1374.68 L449.18,1378.43 L451.37,1382.17 L453.57,1385.90 L455.76,1389.62 L457.95,1393.32 L460.15,1397.01 L462.34,1400.70 L464.53,1404.37 L466.73,1408.03 L468.92,1411.68 L471.11,1415.33 L473.31,1418.96 L475.50,1422.59 L477.69,1426.21 L479.89,1429.82 L482.08,1433.42 L484.27,1437.02 L486.47,1440.60 L488.66,1444.19 L490.85,1447.76 L493.05,1451.33 L495.24,1454.90 L497.43,1458.45 L499.63,1462.01 L501.82,1465.56 L504.01,1469.10 L506.21,1472.65 L508.40,1476.18 L510.59,1479.72 L512.79,1483.25 L514.98,1486.78 L517.17,1490.31 L519.37,1493.84 L521.56,1497.36 L523.75,1500.88 L525.95,1504.41 L528.14,1507.93 L530.33,1511.45 L532.53,1514.98 L534.72,1518.50 L536.91,1522.02 L539.11,1525.55 L541.30,1529.08 L543.49,1532.60 L545.69,1536.14 L547.88,1539.67 L550.07,1543.21 L552.27,1546.75 L554.46,1550.29 L556.65,1553.84 L558.85,1557.39 L561.04,1560.95 L563.23,1564.51 L565.43,1568.08 L567.62,1571.66 L569.81,1575.23 L572.01,1578.82 L574.20,1582.41 L576.39,1586.01 L578.59,1589.62 L580.78,1593.24 L582.97,1596.86 L585.17,1600.49 L587.36,1604.13 L589.55,1607.78 L591.75,1611.44 L593.94,1615.11 L596.13,1618.79 L598.33,1622.48 L600.52,1626.18 L602.71,1629.89 L604.91,1633.61 L607.10,1637.35 L609.29,1641.10 L611.49,1644.86 L613.68,1648.63 L615.87,1652.41 L618.07,1656.21 L620.26,1660.03 L622.45,1663.86 L624.65,1667.70 L626.84,1671.55 L629.03,1675.43 L631.23,1679.32 L633.42,1683.22 L635.61,1687.14 L637.81,1691.08 L640.00,1695.03" stroke="#4169E1" stroke-width="3.8" fill="none" stroke-linejoin="round"/>
<line x1="369.0" y1="1346.0" x2="369.0" y2="1354.0" stroke="#DAA520" stroke-width="4"/>
<line x1="390.0" y1="1370.0" x2="390.0" y2="1378.0" stroke="#DAA520" stroke-width="4"/>
<path d="M138.50,2044.28 L139.46,2034.18 L140.42,2024.15 L141.38,2014.19 L142.34,2004.28 L143.30,1994.44 L144.26,1984.66 L145.23,1974.95 L146.19,1965.30 L147.15,1955.72 L148.11,1946.20 L149.07,1936.74 L150.03,1927.34 L150.99,1918.01 L151.95,1908.75 L152.91,1899.54 L153.87,1890.40 L154.83,1881.33 L155.79,1872.31 L156.75,1863.37 L157.72,1854.48 L158.68,1845.66 L159.64,1836.90 L160.60,1828.21 L161.56,1819.58 L162.52,1811.01 L163.48,1802.51 L164.44,1794.07 L165.40,1785.70 L166.36,1777.38 L167.32,1769.14 L168.28,1760.95 L169.24,1752.83 L170.20,1744.77 L171.17,1736.78 L172.13,1728.85 L173.09,1720.99 L174.05,1713.18 L175.01,1705.45 L175.97,1697.77 L176.93,1690.16 L177.89,1682.61 L178.85,1675.13 L179.81,1667.71 L180.77,1660.35 L181.73,1653.06 L182.69,1645.83 L183.66,1638.67 L184.62,1631.56 L185.58,1624.53 L186.54,1617.55 L187.50,1610.64 L188.46,1603.80 L189.42,1597.01 L190.38,1590.29 L191.34,1583.64 L192.30,1577.05 L193.26,1570.52 L194.22,1564.05 L195.18,1557.65 L196.15,1551.31 L197.11,1545.04 L198.07,1538.83 L199.03,1532.69 L199.99,1526.60 L200.95,1520.58 L201.91,1514.63 L202.87,1508.74 L203.83,1502.91 L204.79,1497.15 L205.75,1491.45 L206.71,1485.81 L207.67,1480.24 L208.64,1474.73 L209.60,1469.28 L210.56,1463.90 L211.52,1458.58 L212.48,1453.33 L213.44,1448.14 L214.40,1443.01 L215.36,1437.95 L216.32,1432.95 L217.28,1428.01 L218.24,1423.14 L219.20,1418.33 L220.16,1413.58 L221.12,1408.90 L222.09,1404.29 L223.05,1399.73 L224.01,1395.24 L224.97,1390.82 L225.93,1386.45 L226.89,1382.15 L227.85,1377.92 L228.81,1373.75 L229.77,1369.64 L230.73,1365.59 L231.69,1361.61 L232.65,1357.70 L233.61,1353.84 L234.58,1350.05 L235.54,1346.33 L236.50,1342.67 L237.46,1339.07 L238.42,1335.53 L239.38,1332.06 L240.34,1328.65 L241.30,1325.31 L242.26,1322.03 L243.22,1318.81 L244.18,1315.66 L245.14,1312.57 L246.10,1309.55 L247.07,1306.58 L248.03,1303.69 L248.99,1300.85 L249.95,1298.08 L250.91,1295.37 L251.87,1292.73 L252.83,1290.15 L253.79,1287.64 L254.75,1285.18 L255.71,1282.80 L256.67,1280.47 L257.63,1278.21 L258.59,1276.01 L259.56,1273.88 L260.52,1271.81 L261.48,1269.80 L262.44,1267.86 L263.40,1265.98 L264.36,1264.17 L265.32,1262.42 L266.28,1260.73 L267.24,1259.10 L268.20,1257.54 L269.16,1256.05 L270.12,1254.61 L271.08,1253.24 L272.04,1251.94 L273.01,1250.70 L273.97,1249.52 L274.93,1248.40 L275.89,1247.35 L276.85,1246.37 L277.81,1245.44 L278.77,1244.58 L279.73,1243.79 L280.69,1243.05 L281.65,1242.38 L282.61,1241.78 L283.57,1241.24 L284.53,1240.76 L285.50,1240.35 L286.46,1240.00 L287.42,1239.71 L288.38,1239.49 L289.34,1239.33 L290.30,1239.23 L291.26,1239.20 L293.45,1243.88 L295.65,1248.55 L297.84,1253.21 L300.03,1257.85 L302.23,1262.48 L304.42,1267.09 L306.61,1271.70 L308.81,1276.28 L311.00,1280.86 L313.19,1285.42 L315.39,1289.97 L317.58,1294.50 L319.77,1299.02 L321.97,1303.53 L324.16,1308.02 L326.35,1312.50 L328.55,1316.97 L330.74,1321.42 L332.93,1325.86 L335.13,1330.29 L337.32,1334.70 L339.51,1339.10 L341.71,1343.49 L343.90,1347.86 L346.09,1352.22 L348.29,1356.56 L350.48,1360.90 L352.67,1365.21 L354.87,1369.52 L357.06,1373.81 L359.25,1378.09 L361.45,1382.35 L363.64,1386.60 L365.83,1390.84 L368.03,1395.06 L370.22,1399.27 L372.41,1403.47 L374.61,1407.65 L376.80,1411.82 L378.99,1415.98 L381.19,1420.12 L383.38,1424.25 L385.57,1428.36 L387.77,1432.47 L389.96,1436.55 L392.15,1440.63 L394.35,1444.69 L396.54,1448.74 L398.73,1452.77 L400.93,1456.79 L403.12,1460.80 L405.31,1464.80 L407.51,1468.78 L409.70,1472.74 L411.89,1476.70 L414.09,1480.64 L416.28,1484.56 L418.47,1488.47 L420.67,1492.37 L422.86,1496.26 L425.05,1500.13 L427.25,1503.99 L429.44,1507.84 L431.63,1511.67 L433.83,1515.49 L436.02,1519.29 L438.21,1523.08 L440.41,1526.86 L442.60,1530.62 L444.79,1534.37 L446.99,1538.11 L449.18,1541.83 L451.37,1545.54 L453.57,1549.24 L455.76,1552.92 L457.95,1556.59 L460.15,1560.25 L462.34,1563.89 L464.53,1567.52 L466.73,1571.14 L468.92,1574.74 L471.11,1578.33 L473.31,1581.90 L475.50,1585.46 L477.69,1589.01 L479.89,1592.55 L482.08,1596.07 L484.27,1599.58 L486.47,1603.07 L488.66,1606.55 L490.85,1610.02 L493.05,1613.47 L495.24,1616.91 L497.43,1620.34 L499.63,1623.75 L501.82,1627.15 L504.01,1630.53 L506.21,1633.91 L508.40,1637.27 L510.59,1640.61 L512.79,1643.94 L514.98,1647.26 L517.17,1650.57 L519.37,1653.86 L521.56,1657.14 L523.75,1660.40 L525.95,1663.65 L528.14,1666.89 L530.33,1670.11 L532.53,1673.32 L534.72,1676.52 L536.91,1679.70 L539.11,1682.87 L541.30,1686.03 L543.49,1689.17 L545.69,1692.30 L547.88,1695.42 L550.07,1698.52 L552.27,1701.61 L554.46,1704.68 L556.65,1707.74 L558.85,1710.79 L561.04,1713.83 L563.23,1716.85 L565.43,1719.85 L567.62,1722.85 L569.81,1725.83 L572.01,1728.80 L574.20,1731.75 L576.39,1734.69 L578.59,1737.62 L580.78,1740.53 L582.97,1743.43 L585.17,1746.31 L587.36,1749.19 L589.55,1752.05 L591.75,1754.89 L593.94,1757.72 L596.13,1760.54 L598.33,1763.35 L600.52,1766.14 L602.71,1768.92 L604.91,1771.68 L607.10,1774.43 L609.29,1777.17 L611.49,1779.89 L613.68,1782.60 L615.87,1785.30 L618.07,1787.98 L620.26,1790.65 L622.45,1793.31 L624.65,1795.95 L626.84,1798.58 L629.03,1801.20 L631.23,1803.80 L633.42,1806.39 L635.61,1808.96 L637.81,1811.53 L640.00,1814.07" stroke="#DAA520" stroke-width="3.8" fill="none" stroke-linejoin="round"/>
<line x1="369.5" y1="1292.5" x2="369.5" y2="1300.5" stroke="#DC143C" stroke-width="4"/>
<line x1="385.0" y1="1306.0" x2="385.0" y2="1314.0" stroke="#DC143C" stroke-width="4"/>
<line x1="391.0" y1="1314.5" x2="391.0" y2="1322.5" stroke="#DC143C" stroke-width="4"/>
<path d="M138.50,1958.68 L139.46,1948.58 L140.42,1938.55 L141.38,1928.59 L142.34,1918.68 L143.30,1908.84 L144.26,1899.06 L145.23,1889.35 L146.19,1879.70 L147.15,1870.12 L148.11,1860.60 L149.07,1851.14 L150.03,1841.74 L150.99,1832.41 L151.95,1823.15 L152.91,1813.94 L153.87,1804.80 L154.83,1795.73 L155.79,1786.71 L156.75,1777.77 L157.72,1768.88 L158.68,1760.06 L159.64,1751.30 L160.60,1742.61 L161.56,1733.98 L162.52,1725.41 L163.48,1716.91 L164.44,1708.47 L165.40,1700.10 L166.36,1691.78 L167.32,1683.54 L168.28,1675.35 L169.24,1667.23 L170.20,1659.17 L171.17,1651.18 L172.13,1643.25 L173.09,1635.39 L174.05,1627.58 L175.01,1619.85 L175.97,1612.17 L176.93,1604.56 L177.89,1597.01 L178.85,1589.53 L179.81,1582.11 L180.77,1574.75 L181.73,1567.46 L182.69,1560.23 L183.66,1553.07 L184.62,1545.96 L185.58,1538.93 L186.54,1531.95 L187.50,1525.04 L188.46,1518.20 L189.42,1511.41 L190.38,1504.69 L191.34,1498.04 L192.30,1491.45 L193.26,1484.92 L194.22,1478.45 L195.18,1472.05 L196.15,1465.71 L197.11,1459.44 L198.07,1453.23 L199.03,1447.09 L199.99,1441.00 L200.95,1434.98 L201.91,1429.03 L202.87,1423.14 L203.83,1417.31 L204.79,1411.55 L205.75,1405.85 L206.71,1400.21 L207.67,1394.64 L208.64,1389.13 L209.60,1383.68 L210.56,1378.30 L211.52,1372.98 L212.48,1367.73 L213.44,1362.54 L214.40,1357.41 L215.36,1352.35 L216.32,1347.35 L217.28,1342.41 L218.24,1337.54 L219.20,1332.73 L220.16,1327.98 L221.12,1323.30 L222.09,1318.69 L223.05,1314.13 L224.01,1309.64 L224.97,1305.22 L225.93,1300.85 L226.89,1296.55 L227.85,1292.32 L228.81,1288.15 L229.77,1284.04 L230.73,1279.99 L231.69,1276.01 L232.65,1272.10 L233.61,1268.24 L234.58,1264.45 L235.54,1260.73 L236.50,1257.07 L237.46,1253.47 L238.42,1249.93 L239.38,1246.46 L240.34,1243.05 L241.30,1239.71 L242.26,1236.43 L243.22,1233.21 L244.18,1230.06 L245.14,1226.97 L246.10,1223.95 L247.07,1220.98 L248.03,1218.09 L248.99,1215.25 L249.95,1212.48 L250.91,1209.77 L251.87,1207.13 L252.83,1204.55 L253.79,1202.04 L254.75,1199.58 L255.71,1197.20 L256.67,1194.87 L257.63,1192.61 L258.59,1190.41 L259.56,1188.28 L260.52,1186.21 L261.48,1184.20 L262.44,1182.26 L263.40,1180.38 L264.36,1178.57 L265.32,1176.82 L266.28,1175.13 L267.24,1173.50 L268.20,1171.94 L269.16,1170.45 L270.12,1169.01 L271.08,1167.64 L272.04,1166.34 L273.01,1165.10 L273.97,1163.92 L274.93,1162.80 L275.89,1161.75 L276.85,1160.77 L277.81,1159.84 L278.77,1158.98 L279.73,1158.19 L280.69,1157.45 L281.65,1156.78 L282.61,1156.18 L283.57,1155.64 L284.53,1155.16 L285.50,1154.75 L286.46,1154.40 L287.42,1154.11 L288.38,1153.89 L289.34,1153.73 L290.30,1153.63 L291.26,1153.60 L293.45,1158.68 L295.65,1163.73 L297.84,1168.77 L300.03,1173.78 L302.23,1178.77 L304.42,1183.74 L306.61,1188.69 L308.81,1193.61 L311.00,1198.52 L313.19,1203.40 L315.39,1208.27 L317.58,1213.11 L319.77,1217.93 L321.97,1222.73 L324.16,1227.51 L326.35,1232.26 L328.55,1237.00 L330.74,1241.71 L332.93,1246.41 L335.13,1251.08 L337.32,1255.73 L339.51,1260.36 L341.71,1264.96 L343.90,1269.55 L346.09,1274.11 L348.29,1278.66 L350.48,1283.18 L352.67,1287.68 L354.87,1292.16 L357.06,1296.62 L359.25,1301.05 L361.45,1305.47 L363.64,1309.86 L365.83,1314.24 L368.03,1318.59 L370.22,1322.92 L372.41,1327.23 L374.61,1331.51 L376.80,1335.78 L378.99,1340.02 L381.19,1344.25 L383.38,1348.45 L385.57,1352.63 L387.77,1356.79 L389.96,1360.93 L392.15,1365.04 L394.35,1369.14 L396.54,1373.21 L398.73,1377.27 L400.93,1381.30 L403.12,1385.31 L405.31,1389.30 L407.51,1393.26 L409.70,1397.21 L411.89,1401.14 L414.09,1405.04 L416.28,1408.92 L418.47,1412.78 L420.67,1416.62 L422.86,1420.44 L425.05,1424.24 L427.25,1428.01 L429.44,1431.77 L431.63,1435.50 L433.83,1439.21 L436.02,1442.90 L438.21,1446.57 L440.41,1450.22 L442.60,1453.85 L444.79,1457.45 L446.99,1461.03 L449.18,1464.60 L451.37,1468.14 L453.57,1471.66 L455.76,1475.16 L457.95,1478.63 L460.15,1482.09 L462.34,1485.52 L464.53,1488.94 L466.73,1492.33 L468.92,1495.70 L471.11,1499.05 L473.31,1502.38 L475.50,1505.68 L477.69,1508.97 L479.89,1512.23 L482.08,1515.47 L484.27,1518.69 L486.47,1521.89 L488.66,1525.07 L490.85,1528.23 L493.05,1531.37 L495.24,1534.48 L497.43,1537.57 L499.63,1540.65 L501.82,1543.70 L504.01,1546.73 L506.21,1549.73 L508.40,1552.72 L510.59,1555.68 L512.79,1558.63 L514.98,1561.55 L517.17,1564.45 L519.37,1567.33 L521.56,1570.19 L523.75,1573.03 L525.95,1575.84 L528.14,1578.64 L530.33,1581.41 L532.53,1584.16 L534.72,1586.90 L536.91,1589.60 L539.11,1592.29 L541.30,1594.96 L543.49,1597.61 L545.69,1600.23 L547.88,1602.83 L550.07,1605.41 L552.27,1607.97 L554.46,1610.51 L556.65,1613.03 L558.85,1615.53 L561.04,1618.00 L563.23,1620.45 L565.43,1622.89 L567.62,1625.30 L569.81,1627.69 L572.01,1630.05 L574.20,1632.40 L576.39,1634.73 L578.59,1637.03 L580.78,1639.31 L582.97,1641.58 L585.17,1643.82 L587.36,1646.03 L589.55,1648.23 L591.75,1650.41 L593.94,1652.56 L596.13,1654.70 L598.33,1656.81 L600.52,1658.90 L602.71,1660.97 L604.91,1663.02 L607.10,1665.05 L609.29,1667.05 L611.49,1669.04 L613.68,1671.00 L615.87,1672.94 L618.07,1674.86 L620.26,1676.76 L622.45,1678.64 L624.65,1680.49 L626.84,1682.33 L629.03,1684.14 L631.23,1685.93 L633.42,1687.71 L635.61,1689.46 L637.81,1691.18 L640.00,1692.89" stroke="#DC143C" stroke-width="3.8" fill="none" stroke-linejoin="round"/>
<line x1="369.2" y1="1173.5" x2="369.2" y2="1201.5" stroke="#808080" stroke-width="4"/>
<line x1="389.5" y1="1186.0" x2="389.5" y2="1228.0" stroke="#808080" stroke-width="4"/>
<path d="M138.50,1763.83 L139.46,1753.73 L140.42,1743.70 L141.38,1733.74 L142.34,1723.83 L143.30,1713.99 L144.26,1704.21 L145.23,1694.50 L146.19,1684.85 L147.15,1675.27 L148.11,1665.75 L149.07,1656.29 L150.03,1646.89 L150.99,1637.56 L151.95,1628.30 L152.91,1619.09 L153.87,1609.95 L154.83,1600.88 L155.79,1591.86 L156.75,1582.92 L157.72,1574.03 L158.68,1565.21 L159.64,1556.45 L160.60,1547.76 L161.56,1539.13 L162.52,1530.56 L163.48,1522.06 L164.44,1513.62 L165.40,1505.25 L166.36,1496.93 L167.32,1488.69 L168.28,1480.50 L169.24,1472.38 L170.20,1464.32 L171.17,1456.33 L172.13,1448.40 L173.09,1440.54 L174.05,1432.73 L175.01,1425.00 L175.97,1417.32 L176.93,1409.71 L177.89,1402.16 L178.85,1394.68 L179.81,1387.26 L180.77,1379.90 L181.73,1372.61 L182.69,1365.38 L183.66,1358.22 L184.62,1351.11 L185.58,1344.08 L186.54,1337.10 L187.50,1330.19 L188.46,1323.35 L189.42,1316.56 L190.38,1309.84 L191.34,1303.19 L192.30,1296.60 L193.26,1290.07 L194.22,1283.60 L195.18,1277.20 L196.15,1270.86 L197.11,1264.59 L198.07,1258.38 L199.03,1252.24 L199.99,1246.15 L200.95,1240.13 L201.91,1234.18 L202.87,1228.29 L203.83,1222.46 L204.79,1216.70 L205.75,1211.00 L206.71,1205.36 L207.67,1199.79 L208.64,1194.28 L209.60,1188.83 L210.56,1183.45 L211.52,1178.13 L212.48,1172.88 L213.44,1167.69 L214.40,1162.56 L215.36,1157.50 L216.32,1152.50 L217.28,1147.56 L218.24,1142.69 L219.20,1137.88 L220.16,1133.13 L221.12,1128.45 L222.09,1123.84 L223.05,1119.28 L224.01,1114.79 L224.97,1110.37 L225.93,1106.00 L226.89,1101.70 L227.85,1097.47 L228.81,1093.30 L229.77,1089.19 L230.73,1085.14 L231.69,1081.16 L232.65,1077.25 L233.61,1073.39 L234.58,1069.60 L235.54,1065.88 L236.50,1062.22 L237.46,1058.62 L238.42,1055.08 L239.38,1051.61 L240.34,1048.20 L241.30,1044.86 L242.26,1041.58 L243.22,1038.36 L244.18,1035.21 L245.14,1032.12 L246.10,1029.10 L247.07,1026.13 L248.03,1023.24 L248.99,1020.40 L249.95,1017.63 L250.91,1014.92 L251.87,1012.28 L252.83,1009.70 L253.79,1007.19 L254.75,1004.73 L255.71,1002.35 L256.67,1000.02 L257.63,997.76 L258.59,995.56 L259.56,993.43 L260.52,991.36 L261.48,989.35 L262.44,987.41 L263.40,985.53 L264.36,983.72 L265.32,981.97 L266.28,980.28 L267.24,978.65 L268.20,977.09 L269.16,975.60 L270.12,974.16 L271.08,972.79 L272.04,971.49 L273.01,970.25 L273.97,969.07 L274.93,967.95 L275.89,966.90 L276.85,965.92 L277.81,964.99 L278.77,964.13 L279.73,963.34 L280.69,962.60 L281.65,961.93 L282.61,961.33 L283.57,960.79 L284.53,960.31 L285.50,959.90 L286.46,959.55 L287.42,959.26 L288.38,959.04 L289.34,958.88 L290.30,958.78 L291.26,958.75 L293.45,964.24 L295.65,969.70 L297.84,975.14 L300.03,980.56 L302.23,985.96 L304.42,991.33 L306.61,996.68 L308.81,1002.01 L311.00,1007.31 L313.19,1012.60 L315.39,1017.86 L317.58,1023.10 L319.77,1028.33 L321.97,1033.53 L324.16,1038.70 L326.35,1043.86 L328.55,1049.00 L330.74,1054.12 L332.93,1059.22 L335.13,1064.29 L337.32,1069.35 L339.51,1074.39 L341.71,1079.41 L343.90,1084.41 L346.09,1089.39 L348.29,1094.35 L350.48,1099.29 L352.67,1104.22 L354.87,1109.13 L357.06,1114.01 L359.25,1118.88 L361.45,1123.74 L363.64,1128.57 L365.83,1133.39 L368.03,1138.19 L370.22,1142.98 L372.41,1147.74 L374.61,1152.49 L376.80,1157.23 L378.99,1161.95 L381.19,1166.65 L383.38,1171.33 L385.57,1176.01 L387.77,1180.66 L389.96,1185.30 L392.15,1189.92 L394.35,1194.53 L396.54,1199.13 L398.73,1203.71 L400.93,1208.27 L403.12,1212.83 L405.31,1217.36 L407.51,1221.89 L409.70,1226.40 L411.89,1230.89 L414.09,1235.38 L416.28,1239.85 L418.47,1244.30 L420.67,1248.75 L422.86,1253.18 L425.05,1257.60 L427.25,1262.01 L429.44,1266.40 L431.63,1270.79 L433.83,1275.16 L436.02,1279.52 L438.21,1283.87 L440.41,1288.21 L442.60,1292.53 L444.79,1296.85 L446.99,1301.16 L449.18,1305.45 L451.37,1309.74 L453.57,1314.01 L455.76,1318.28 L457.95,1322.53 L460.15,1326.78 L462.34,1331.02 L464.53,1335.24 L466.73,1339.46 L468.92,1343.67 L471.11,1347.88 L473.31,1352.07 L475.50,1356.26 L477.69,1360.43 L479.89,1364.60 L482.08,1368.77 L484.27,1372.92 L486.47,1377.07 L488.66,1381.21 L490.85,1385.34 L493.05,1389.47 L495.24,1393.59 L497.43,1397.70 L499.63,1401.81 L501.82,1405.91 L504.01,1410.01 L506.21,1414.10 L508.40,1418.18 L510.59,1422.26 L512.79,1426.34 L514.98,1430.41 L517.17,1434.48 L519.37,1438.54 L521.56,1442.59 L523.75,1446.65 L525.95,1450.69 L528.14,1454.74 L530.33,1458.78 L532.53,1462.82 L534.72,1466.85 L536.91,1470.88 L539.11,1474.91 L541.30,1478.94 L543.49,1482.96 L545.69,1486.99 L547.88,1491.00 L550.07,1495.02 L552.27,1499.04 L554.46,1503.05 L556.65,1507.06 L558.85,1511.08 L561.04,1515.09 L563.23,1519.10 L565.43,1523.11 L567.62,1527.11 L569.81,1531.12 L572.01,1535.13 L574.20,1539.14 L576.39,1543.15 L578.59,1547.16 L580.78,1551.17 L582.97,1555.18 L585.17,1559.19 L587.36,1563.20 L589.55,1567.22 L591.75,1571.23 L593.94,1575.25 L596.13,1579.27 L598.33,1583.29 L600.52,1587.32 L602.71,1591.35 L604.91,1595.37 L607.10,1599.41 L609.29,1603.44 L611.49,1607.48 L613.68,1611.52 L615.87,1615.57 L618.07,1619.62 L620.26,1623.67 L622.45,1627.73 L624.65,1631.79 L626.84,1635.86 L629.03,1639.93 L631.23,1644.00 L633.42,1648.08 L635.61,1652.17 L637.81,1656.26 L640.00,1660.36" stroke="#808080" stroke-width="3.8" fill="none" stroke-linejoin="round"/>
<line x1="242.0" y1="1132.0" x2="242.0" y2="1146.0" stroke="#00FFFF" stroke-width="4"/>
<line x1="244.0" y1="1139.0" x2="244.0" y2="1153.0" stroke="#00FFFF" stroke-width="4"/>
<line x1="249.0" y1="1125.0" x2="249.0" y2="1139.0" stroke="#00FFFF" stroke-width="4"/>
<line x1="250.0" y1="1134.0" x2="250.0" y2="1148.0" stroke="#00FFFF" stroke-width="4"/>
<line x1="255.0" y1="1120.0" x2="255.0" y2="1134.0" stroke="#00FFFF" stroke-width="4"/>
<line x1="256.0" y1="1127.0" x2="256.0" y2="1141.0" stroke="#00FFFF" stroke-width="4"/>
<line x1="242.4" y1="1153.5" x2="242.4" y2="1168.5" stroke="#00FFFF" stroke-width="4"/>
<line x1="433.0" y1="1363.0" x2="433.0" y2="1469.0" stroke="#00FFFF" stroke-width="4"/>
<line x1="460.4" y1="1330.0" x2="460.4" y2="1508.0" stroke="#00FFFF" stroke-width="4"/>
<line x1="474.0" y1="1372.0" x2="474.0" y2="1533.0" stroke="#00FFFF" stroke-width="4"/>
<line x1="515.4" y1="1407.4" x2="515.4" y2="1469.4" stroke="#00FFFF" stroke-width="4"/>
<path d="M138.50,1886.58 L139.46,1876.48 L140.42,1866.45 L141.38,1856.49 L142.34,1846.58 L143.30,1836.74 L144.26,1826.96 L145.23,1817.25 L146.19,1807.60 L147.15,1798.02 L148.11,1788.50 L149.07,1779.04 L150.03,1769.64 L150.99,1760.31 L151.95,1751.05 L152.91,1741.84 L153.87,1732.70 L154.83,1723.63 L155.79,1714.61 L156.75,1705.67 L157.72,1696.78 L158.68,1687.96 L159.64,1679.20 L160.60,1670.51 L161.56,1661.88 L162.52,1653.31 L163.48,1644.81 L164.44,1636.37 L165.40,1628.00 L166.36,1619.68 L167.32,1611.44 L168.28,1603.25 L169.24,1595.13 L170.20,1587.07 L171.17,1579.08 L172.13,1571.15 L173.09,1563.29 L174.05,1555.48 L175.01,1547.75 L175.97,1540.07 L176.93,1532.46 L177.89,1524.91 L178.85,1517.43 L179.81,1510.01 L180.77,1502.65 L181.73,1495.36 L182.69,1488.13 L183.66,1480.97 L184.62,1473.86 L185.58,1466.83 L186.54,1459.85 L187.50,1452.94 L188.46,1446.10 L189.42,1439.31 L190.38,1432.59 L191.34,1425.94 L192.30,1419.35 L193.26,1412.82 L194.22,1406.35 L195.18,1399.95 L196.15,1393.61 L197.11,1387.34 L198.07,1381.13 L199.03,1374.99 L199.99,1368.90 L200.95,1362.88 L201.91,1356.93 L202.87,1351.04 L203.83,1345.21 L204.79,1339.45 L205.75,1333.75 L206.71,1328.11 L207.67,1322.54 L208.64,1317.03 L209.60,1311.58 L210.56,1306.20 L211.52,1300.88 L212.48,1295.63 L213.44,1290.44 L214.40,1285.31 L215.36,1280.25 L216.32,1275.25 L217.28,1270.31 L218.24,1265.44 L219.20,1260.63 L220.16,1255.88 L221.12,1251.20 L222.09,1246.59 L223.05,1242.03 L224.01,1237.54 L224.97,1233.12 L225.93,1228.75 L226.89,1224.45 L227.85,1220.22 L228.81,1216.05 L229.77,1211.94 L230.73,1207.89 L231.69,1203.91 L232.65,1200.00 L233.61,1196.14 L234.58,1192.35 L235.54,1188.63 L236.50,1184.97 L237.46,1181.37 L238.42,1177.83 L239.38,1174.36 L240.34,1170.95 L241.30,1167.61 L242.26,1164.33 L243.22,1161.11 L244.18,1157.96 L245.14,1154.87 L246.10,1151.85 L247.07,1148.88 L248.03,1145.99 L248.99,1143.15 L249.95,1140.38 L250.91,1137.67 L251.87,1135.03 L252.83,1132.45 L253.79,1129.94 L254.75,1127.48 L255.71,1125.10 L256.67,1122.77 L257.63,1120.51 L258.59,1118.31 L259.56,1116.18 L260.52,1114.11 L261.48,1112.10 L262.44,1110.16 L263.40,1108.28 L264.36,1106.47 L265.32,1104.72 L266.28,1103.03 L267.24,1101.40 L268.20,1099.84 L269.16,1098.35 L270.12,1096.91 L271.08,1095.54 L272.04,1094.24 L273.01,1093.00 L273.97,1091.82 L274.93,1090.70 L275.89,1089.65 L276.85,1088.67 L277.81,1087.74 L278.77,1086.88 L279.73,1086.09 L280.69,1085.35 L281.65,1084.68 L282.61,1084.08 L283.57,1083.54 L284.53,1083.06 L285.50,1082.65 L286.46,1082.30 L287.42,1082.01 L288.38,1081.79 L289.34,1081.63 L290.30,1081.53 L291.26,1081.50 L293.45,1086.75 L295.65,1091.98 L297.84,1097.17 L300.03,1102.34 L302.23,1107.48 L304.42,1112.59 L306.61,1117.67 L308.81,1122.72 L311.00,1127.75 L313.19,1132.75 L315.39,1137.72 L317.58,1142.67 L319.77,1147.59 L321.97,1152.48 L324.16,1157.35 L326.35,1162.19 L328.55,1167.00 L330.74,1171.79 L332.93,1176.55 L335.13,1181.29 L337.32,1186.01 L339.51,1190.69 L341.71,1195.36 L343.90,1200.00 L346.09,1204.61 L348.29,1209.20 L350.48,1213.77 L352.67,1218.32 L354.87,1222.84 L357.06,1227.33 L359.25,1231.81 L361.45,1236.26 L363.64,1240.69 L365.83,1245.10 L368.03,1249.48 L370.22,1253.84 L372.41,1258.18 L374.61,1262.50 L376.80,1266.80 L378.99,1271.08 L381.19,1275.33 L383.38,1279.57 L385.57,1283.79 L387.77,1287.98 L389.96,1292.15 L392.15,1296.31 L394.35,1300.44 L396.54,1304.56 L398.73,1308.66 L400.93,1312.73 L403.12,1316.79 L405.31,1320.83 L407.51,1324.85 L409.70,1328.85 L411.89,1332.84 L414.09,1336.81 L416.28,1340.76 L418.47,1344.69 L420.67,1348.60 L422.86,1352.50 L425.05,1356.38 L427.25,1360.25 L429.44,1364.09 L431.63,1367.93 L433.83,1371.74 L436.02,1375.54 L438.21,1379.33 L440.41,1383.09 L442.60,1386.85 L444.79,1390.59 L446.99,1394.31 L449.18,1398.02 L451.37,1401.72 L453.57,1405.40 L455.76,1409.07 L457.95,1412.72 L460.15,1416.36 L462.34,1419.99 L464.53,1423.60 L466.73,1427.20 L468.92,1430.79 L471.11,1434.36 L473.31,1437.93 L475.50,1441.48 L477.69,1445.02 L479.89,1448.54 L482.08,1452.06 L484.27,1455.56 L486.47,1459.06 L488.66,1462.54 L490.85,1466.01 L493.05,1469.47 L495.24,1472.93 L497.43,1476.37 L499.63,1479.80 L501.82,1483.22 L504.01,1486.63 L506.21,1490.04 L508.40,1493.43 L510.59,1496.82 L512.79,1500.19 L514.98,1503.56 L517.17,1506.92 L519.37,1510.27 L521.56,1513.62 L523.75,1516.96 L525.95,1520.29 L528.14,1523.61 L530.33,1526.92 L532.53,1530.23 L534.72,1533.53 L536.91,1536.83 L539.11,1540.12 L541.30,1543.40 L543.49,1546.68 L545.69,1549.95 L547.88,1553.22 L550.07,1556.48 L552.27,1559.74 L554.46,1562.99 L556.65,1566.24 L558.85,1569.48 L561.04,1572.72 L563.23,1575.96 L565.43,1579.19 L567.62,1582.42 L569.81,1585.65 L572.01,1588.87 L574.20,1592.09 L576.39,1595.30 L578.59,1598.52 L580.78,1601.73 L582.97,1604.94 L585.17,1608.15 L587.36,1611.35 L589.55,1614.56 L591.75,1617.76 L593.94,1620.97 L596.13,1624.17 L598.33,1627.37 L600.52,1630.57 L602.71,1633.77 L604.91,1636.97 L607.10,1640.17 L609.29,1643.38 L611.49,1646.58 L613.68,1649.78 L615.87,1652.98 L618.07,1656.19 L620.26,1659.40 L622.45,1662.60 L624.65,1665.82 L626.84,1669.03 L629.03,1672.24 L631.23,1675.46 L633.42,1678.68 L635.61,1681.90 L637.81,1685.13 L640.00,1688.36" stroke="#00FFFF" stroke-width="3.8" fill="none" stroke-linejoin="round"/>
<line x1="165.6" y1="1453.0" x2="165.6" y2="1495.0" stroke="#4169E1" stroke-width="4"/>
<line x1="221.6" y1="1230.0" x2="221.6" y2="1240.0" stroke="#4169E1" stroke-width="4"/>
<line x1="248.6" y1="1091.0" x2="248.6" y2="1097.0" stroke="#4169E1" stroke-width="4"/>
<line x1="275.6" y1="1073.0" x2="275.6" y2="1079.0" stroke="#4169E1" stroke-width="4"/>
<line x1="289.0" y1="1074.0" x2="289.0" y2="1080.0" stroke="#4169E1" stroke-width="4"/>
<line x1="351.0" y1="1219.4" x2="351.0" y2="1225.4" stroke="#4169E1" stroke-width="4"/>
<line x1="488.0" y1="1396.5" x2="488.0" y2="1429.5" stroke="#4169E1" stroke-width="4"/>
<line x1="515.0" y1="1469.0" x2="515.0" y2="1511.0" stroke="#4169E1" stroke-width="4"/>
<path d="M138.50,1857.68 L139.46,1847.58 L140.42,1837.55 L141.38,1827.59 L142.34,1817.68 L143.30,1807.84 L144.26,1798.06 L145.23,1788.35 L146.19,1778.70 L147.15,1769.12 L148.11,1759.60 L149.07,1750.14 L150.03,1740.74 L150.99,1731.41 L151.95,1722.15 L152.91,1712.94 L153.87,1703.80 L154.83,1694.73 L155.79,1685.71 L156.75,1676.77 L157.72,1667.88 L158.68,1659.06 L159.64,1650.30 L160.60,1641.61 L161.56,1632.98 L162.52,1624.41 L163.48,1615.91 L164.44,1607.47 L165.40,1599.10 L166.36,1590.78 L167.32,1582.54 L168.28,1574.35 L169.24,1566.23 L170.20,1558.17 L171.17,1550.18 L172.13,1542.25 L173.09,1534.39 L174.05,1526.58 L175.01,1518.85 L175.97,1511.17 L176.93,1503.56 L177.89,1496.01 L178.85,1488.53 L179.81,1481.11 L180.77,1473.75 L181.73,1466.46 L182.69,1459.23 L183.66,1452.07 L184.62,1444.96 L185.58,1437.93 L186.54,1430.95 L187.50,1424.04 L188.46,1417.20 L189.42,1410.41 L190.38,1403.69 L191.34,1397.04 L192.30,1390.45 L193.26,1383.92 L194.22,1377.45 L195.18,1371.05 L196.15,1364.71 L197.11,1358.44 L198.07,1352.23 L199.03,1346.09 L199.99,1340.00 L200.95,1333.98 L201.91,1328.03 L202.87,1322.14 L203.83,1316.31 L204.79,1310.55 L205.75,1304.85 L206.71,1299.21 L207.67,1293.64 L208.64,1288.13 L209.60,1282.68 L210.56,1277.30 L211.52,1271.98 L212.48,1266.73 L213.44,1261.54 L214.40,1256.41 L215.36,1251.35 L216.32,1246.35 L217.28,1241.41 L218.24,1236.54 L219.20,1231.73 L220.16,1226.98 L221.12,1222.30 L222.09,1217.69 L223.05,1213.13 L224.01,1208.64 L224.97,1204.22 L225.93,1199.85 L226.89,1195.55 L227.85,1191.32 L228.81,1187.15 L229.77,1183.04 L230.73,1178.99 L231.69,1175.01 L232.65,1171.10 L233.61,1167.24 L234.58,1163.45 L235.54,1159.73 L236.50,1156.07 L237.46,1152.47 L238.42,1148.93 L239.38,1145.46 L240.34,1142.05 L241.30,1138.71 L242.26,1135.43 L243.22,1132.21 L244.18,1129.06 L245.14,1125.97 L246.10,1122.95 L247.07,1119.98 L248.03,1117.09 L248.99,1114.25 L249.95,1111.48 L250.91,1108.77 L251.87,1106.13 L252.83,1103.55 L253.79,1101.04 L254.75,1098.58 L255.71,1096.20 L256.67,1093.87 L257.63,1091.61 L258.59,1089.41 L259.56,1087.28 L260.52,1085.21 L261.48,1083.20 L262.44,1081.26 L263.40,1079.38 L264.36,1077.57 L265.32,1075.82 L266.28,1074.13 L267.24,1072.50 L268.20,1070.94 L269.16,1069.45 L270.12,1068.01 L271.08,1066.64 L272.04,1065.34 L273.01,1064.10 L273.97,1062.92 L274.93,1061.80 L275.89,1060.75 L276.85,1059.77 L277.81,1058.84 L278.77,1057.98 L279.73,1057.19 L280.69,1056.45 L281.65,1055.78 L282.61,1055.18 L283.57,1054.64 L284.53,1054.16 L285.50,1053.75 L286.46,1053.40 L287.42,1053.11 L288.38,1052.89 L289.34,1052.73 L290.30,1052.63 L291.26,1052.60 L293.45,1057.88 L295.65,1063.13 L297.84,1068.35 L300.03,1073.54 L302.23,1078.71 L304.42,1083.84 L306.61,1088.95 L308.81,1094.04 L311.00,1099.09 L313.19,1104.12 L315.39,1109.13 L317.58,1114.10 L319.77,1119.05 L321.97,1123.98 L324.16,1128.88 L326.35,1133.75 L328.55,1138.60 L330.74,1143.42 L332.93,1148.22 L335.13,1152.99 L337.32,1157.74 L339.51,1162.47 L341.71,1167.17 L343.90,1171.85 L346.09,1176.50 L348.29,1181.13 L350.48,1185.74 L352.67,1190.33 L354.87,1194.89 L357.06,1199.43 L359.25,1203.95 L361.45,1208.45 L363.64,1212.92 L365.83,1217.38 L368.03,1221.81 L370.22,1226.22 L372.41,1230.61 L374.61,1234.98 L376.80,1239.33 L378.99,1243.66 L381.19,1247.97 L383.38,1252.26 L385.57,1256.53 L387.77,1260.78 L389.96,1265.02 L392.15,1269.23 L394.35,1273.42 L396.54,1277.60 L398.73,1281.76 L400.93,1285.90 L403.12,1290.02 L405.31,1294.13 L407.51,1298.22 L409.70,1302.29 L411.89,1306.35 L414.09,1310.38 L416.28,1314.41 L418.47,1318.41 L420.67,1322.40 L422.86,1326.38 L425.05,1330.33 L427.25,1334.28 L429.44,1338.21 L431.63,1342.12 L433.83,1346.02 L436.02,1349.91 L438.21,1353.78 L440.41,1357.63 L442.60,1361.48 L444.79,1365.31 L446.99,1369.12 L449.18,1372.93 L451.37,1376.72 L453.57,1380.50 L455.76,1384.26 L457.95,1388.02 L460.15,1391.76 L462.34,1395.49 L464.53,1399.21 L466.73,1402.92 L468.92,1406.61 L471.11,1410.30 L473.31,1413.97 L475.50,1417.64 L477.69,1421.29 L479.89,1424.94 L482.08,1428.57 L484.27,1432.20 L486.47,1435.82 L488.66,1439.42 L490.85,1443.02 L493.05,1446.61 L495.24,1450.20 L497.43,1453.77 L499.63,1457.34 L501.82,1460.89 L504.01,1464.44 L506.21,1467.99 L508.40,1471.52 L510.59,1475.05 L512.79,1478.58 L514.98,1482.09 L517.17,1485.61 L519.37,1489.11 L521.56,1492.61 L523.75,1496.10 L525.95,1499.59 L528.14,1503.08 L530.33,1506.55 L532.53,1510.03 L534.72,1513.50 L536.91,1516.96 L539.11,1520.43 L541.30,1523.88 L543.49,1527.34 L545.69,1530.79 L547.88,1534.24 L550.07,1537.68 L552.27,1541.13 L554.46,1544.57 L556.65,1548.01 L558.85,1551.44 L561.04,1554.88 L563.23,1558.31 L565.43,1561.74 L567.62,1565.17 L569.81,1568.60 L572.01,1572.03 L574.20,1575.46 L576.39,1578.89 L578.59,1582.32 L580.78,1585.75 L582.97,1589.18 L585.17,1592.61 L587.36,1596.05 L589.55,1599.48 L591.75,1602.91 L593.94,1606.35 L596.13,1609.79 L598.33,1613.23 L600.52,1616.67 L602.71,1620.12 L604.91,1623.57 L607.10,1627.02 L609.29,1630.47 L611.49,1633.93 L613.68,1637.39 L615.87,1640.85 L618.07,1644.32 L620.26,1647.80 L622.45,1651.27 L624.65,1654.76 L626.84,1658.24 L629.03,1661.74 L631.23,1665.24 L633.42,1668.74 L635.61,1672.25 L637.81,1675.76 L640.00,1679.29" stroke="#4169E1" stroke-width="3.8" fill="none" stroke-linejoin="round"/>
<line x1="330.5" y1="1276.0" x2="330.5" y2="1282.0" stroke="#DAA520" stroke-width="4"/>
<path d="M138.50,2029.08 L139.46,2018.98 L140.42,2008.95 L141.38,1998.99 L142.34,1989.08 L143.30,1979.24 L144.26,1969.46 L145.23,1959.75 L146.19,1950.10 L147.15,1940.52 L148.11,1931.00 L149.07,1921.54 L150.03,1912.14 L150.99,1902.81 L151.95,1893.55 L152.91,1884.34 L153.87,1875.20 L154.83,1866.13 L155.79,1857.11 L156.75,1848.17 L157.72,1839.28 L158.68,1830.46 L159.64,1821.70 L160.60,1813.01 L161.56,1804.38 L162.52,1795.81 L163.48,1787.31 L164.44,1778.87 L165.40,1770.50 L166.36,1762.18 L167.32,1753.94 L168.28,1745.75 L169.24,1737.63 L170.20,1729.57 L171.17,1721.58 L172.13,1713.65 L173.09,1705.79 L174.05,1697.98 L175.01,1690.25 L175.97,1682.57 L176.93,1674.96 L177.89,1667.41 L178.85,1659.93 L179.81,1652.51 L180.77,1645.15 L181.73,1637.86 L182.69,1630.63 L183.66,1623.47 L184.62,1616.36 L185.58,1609.33 L186.54,1602.35 L187.50,1595.44 L188.46,1588.60 L189.42,1581.81 L190.38,1575.09 L191.34,1568.44 L192.30,1561.85 L193.26,1555.32 L194.22,1548.85 L195.18,1542.45 L196.15,1536.11 L197.11,1529.84 L198.07,1523.63 L199.03,1517.49 L199.99,1511.40 L200.95,1505.38 L201.91,1499.43 L202.87,1493.54 L203.83,1487.71 L204.79,1481.95 L205.75,1476.25 L206.71,1470.61 L207.67,1465.04 L208.64,1459.53 L209.60,1454.08 L210.56,1448.70 L211.52,1443.38 L212.48,1438.13 L213.44,1432.94 L214.40,1427.81 L215.36,1422.75 L216.32,1417.75 L217.28,1412.81 L218.24,1407.94 L219.20,1403.13 L220.16,1398.38 L221.12,1393.70 L222.09,1389.09 L223.05,1384.53 L224.01,1380.04 L224.97,1375.62 L225.93,1371.25 L226.89,1366.95 L227.85,1362.72 L228.81,1358.55 L229.77,1354.44 L230.73,1350.39 L231.69,1346.41 L232.65,1342.50 L233.61,1338.64 L234.58,1334.85 L235.54,1331.13 L236.50,1327.47 L237.46,1323.87 L238.42,1320.33 L239.38,1316.86 L240.34,1313.45 L241.30,1310.11 L242.26,1306.83 L243.22,1303.61 L244.18,1300.46 L245.14,1297.37 L246.10,1294.35 L247.07,1291.38 L248.03,1288.49 L248.99,1285.65 L249.95,1282.88 L250.91,1280.17 L251.87,1277.53 L252.83,1274.95 L253.79,1272.44 L254.75,1269.98 L255.71,1267.60 L256.67,1265.27 L257.63,1263.01 L258.59,1260.81 L259.56,1258.68 L260.52,1256.61 L261.48,1254.60 L262.44,1252.66 L263.40,1250.78 L264.36,1248.97 L265.32,1247.22 L266.28,1245.53 L267.24,1243.90 L268.20,1242.34 L269.16,1240.85 L270.12,1239.41 L271.08,1238.04 L272.04,1236.74 L273.01,1235.50 L273.97,1234.32 L274.93,1233.20 L275.89,1232.15 L276.85,1231.17 L277.81,1230.24 L278.77,1229.38 L279.73,1228.59 L280.69,1227.85 L281.65,1227.18 L282.61,1226.58 L283.57,1226.04 L284.53,1225.56 L285.50,1225.15 L286.46,1224.80 L287.42,1224.51 L288.38,1224.29 L289.34,1224.13 L290.30,1224.03 L291.26,1224.00 L293.45,1228.86 L295.65,1233.70 L297.84,1238.52 L300.03,1243.32 L302.23,1248.10 L304.42,1252.86 L306.61,1257.61 L308.81,1262.33 L311.00,1267.04 L313.19,1271.73 L315.39,1276.40 L317.58,1281.05 L319.77,1285.68 L321.97,1290.29 L324.16,1294.88 L326.35,1299.45 L328.55,1304.01 L330.74,1308.54 L332.93,1313.06 L335.13,1317.56 L337.32,1322.04 L339.51,1326.50 L341.71,1330.94 L343.90,1335.36 L346.09,1339.76 L348.29,1344.14 L350.48,1348.51 L352.67,1352.85 L354.87,1357.18 L357.06,1361.49 L359.25,1365.78 L361.45,1370.05 L363.64,1374.30 L365.83,1378.53 L368.03,1382.74 L370.22,1386.94 L372.41,1391.11 L374.61,1395.27 L376.80,1399.40 L378.99,1403.52 L381.19,1407.62 L383.38,1411.70 L385.57,1415.76 L387.77,1419.80 L389.96,1423.83 L392.15,1427.83 L394.35,1431.82 L396.54,1435.78 L398.73,1439.73 L400.93,1443.66 L403.12,1447.57 L405.31,1451.46 L407.51,1455.33 L409.70,1459.18 L411.89,1463.01 L414.09,1466.83 L416.28,1470.62 L418.47,1474.40 L420.67,1478.16 L422.86,1481.89 L425.05,1485.61 L427.25,1489.31 L429.44,1493.00 L431.63,1496.66 L433.83,1500.30 L436.02,1503.93 L438.21,1507.53 L440.41,1511.12 L442.60,1514.69 L444.79,1518.23 L446.99,1521.76 L449.18,1525.27 L451.37,1528.77 L453.57,1532.24 L455.76,1535.69 L457.95,1539.13 L460.15,1542.54 L462.34,1545.94 L464.53,1549.32 L466.73,1552.68 L468.92,1556.02 L471.11,1559.34 L473.31,1562.64 L475.50,1565.92 L477.69,1569.19 L479.89,1572.43 L482.08,1575.66 L484.27,1578.86 L486.47,1582.05 L488.66,1585.22 L490.85,1588.37 L493.05,1591.50 L495.24,1594.61 L497.43,1597.71 L499.63,1600.78 L501.82,1603.83 L504.01,1606.87 L506.21,1609.89 L508.40,1612.89 L510.59,1615.87 L512.79,1618.83 L514.98,1621.77 L517.17,1624.69 L519.37,1627.59 L521.56,1630.48 L523.75,1633.34 L525.95,1636.19 L528.14,1639.02 L530.33,1641.82 L532.53,1644.61 L534.72,1647.38 L536.91,1650.13 L539.11,1652.87 L541.30,1655.58 L543.49,1658.27 L545.69,1660.95 L547.88,1663.61 L550.07,1666.24 L552.27,1668.86 L554.46,1671.46 L556.65,1674.04 L558.85,1676.60 L561.04,1679.15 L563.23,1681.67 L565.43,1684.18 L567.62,1686.66 L569.81,1689.13 L572.01,1691.58 L574.20,1694.00 L576.39,1696.41 L578.59,1698.80 L580.78,1701.18 L582.97,1703.53 L585.17,1705.86 L587.36,1708.18 L589.55,1710.47 L591.75,1712.75 L593.94,1715.01 L596.13,1717.25 L598.33,1719.47 L600.52,1721.67 L602.71,1723.85 L604.91,1726.01 L607.10,1728.16 L609.29,1730.28 L611.49,1732.39 L613.68,1734.48 L615.87,1736.54 L618.07,1738.59 L620.26,1740.62 L622.45,1742.63 L624.65,1744.63 L626.84,1746.60 L629.03,1748.55 L631.23,1750.49 L633.42,1752.41 L635.61,1754.30 L637.81,1756.18 L640.00,1758.04" stroke="#DAA520" stroke-width="3.8" fill="none" stroke-linejoin="round"/>
<line x1="214.4" y1="1368.0" x2="214.4" y2="1440.0" stroke="#FFA500" stroke-width="4"/>
<line x1="283.0" y1="1168.0" x2="283.0" y2="1182.0" stroke="#FFA500" stroke-width="4"/>
<line x1="283.0" y1="1176.0" x2="283.0" y2="1190.0" stroke="#FFA500" stroke-width="4"/>
<line x1="296.0" y1="1177.0" x2="296.0" y2="1191.0" stroke="#FFA500" stroke-width="4"/>
<line x1="297.0" y1="1187.0" x2="297.0" y2="1201.0" stroke="#FFA500" stroke-width="4"/>
<line x1="297.0" y1="1192.0" x2="297.0" y2="1206.0" stroke="#FFA500" stroke-width="4"/>
<line x1="310.0" y1="1193.5" x2="310.0" y2="1207.5" stroke="#FFA500" stroke-width="4"/>
<line x1="310.0" y1="1202.5" x2="310.0" y2="1216.5" stroke="#FFA500" stroke-width="4"/>
<line x1="310.4" y1="1207.0" x2="310.4" y2="1221.0" stroke="#FFA500" stroke-width="4"/>
<line x1="323.6" y1="1209.4" x2="323.6" y2="1223.4" stroke="#FFA500" stroke-width="4"/>
<line x1="323.6" y1="1222.0" x2="323.6" y2="1236.0" stroke="#FFA500" stroke-width="4"/>
<line x1="324.4" y1="1226.5" x2="324.4" y2="1241.5" stroke="#FFA500" stroke-width="4"/>
<line x1="337.6" y1="1244.5" x2="337.6" y2="1259.5" stroke="#FFA500" stroke-width="4"/>
<line x1="337.6" y1="1252.0" x2="337.6" y2="1268.0" stroke="#FFA500" stroke-width="4"/>
<line x1="338.0" y1="1257.0" x2="338.0" y2="1275.0" stroke="#FFA500" stroke-width="4"/>
<line x1="351.4" y1="1230.0" x2="351.4" y2="1382.0" stroke="#FFA500" stroke-width="4"/>
<line x1="378.0" y1="1307.0" x2="378.0" y2="1349.0" stroke="#FFA500" stroke-width="4"/>
<line x1="378.0" y1="1355.0" x2="378.0" y2="1411.0" stroke="#FFA500" stroke-width="4"/>
<line x1="392.2" y1="1214.0" x2="392.2" y2="1284.0" stroke="#FFA500" stroke-width="4"/>
<line x1="405.6" y1="1338.0" x2="405.6" y2="1419.0" stroke="#FFA500" stroke-width="4"/>
<line x1="419.4" y1="1325.5" x2="419.4" y2="1356.5" stroke="#FFA500" stroke-width="4"/>
<line x1="419.4" y1="1379.0" x2="419.4" y2="1415.0" stroke="#FFA500" stroke-width="4"/>
<path d="M138.50,1975.08 L139.46,1964.98 L140.42,1954.95 L141.38,1944.99 L142.34,1935.08 L143.30,1925.24 L144.26,1915.46 L145.23,1905.75 L146.19,1896.10 L147.15,1886.52 L148.11,1877.00 L149.07,1867.54 L150.03,1858.14 L150.99,1848.81 L151.95,1839.55 L152.91,1830.34 L153.87,1821.20 L154.83,1812.13 L155.79,1803.11 L156.75,1794.17 L157.72,1785.28 L158.68,1776.46 L159.64,1767.70 L160.60,1759.01 L161.56,1750.38 L162.52,1741.81 L163.48,1733.31 L164.44,1724.87 L165.40,1716.50 L166.36,1708.18 L167.32,1699.94 L168.28,1691.75 L169.24,1683.63 L170.20,1675.57 L171.17,1667.58 L172.13,1659.65 L173.09,1651.79 L174.05,1643.98 L175.01,1636.25 L175.97,1628.57 L176.93,1620.96 L177.89,1613.41 L178.85,1605.93 L179.81,1598.51 L180.77,1591.15 L181.73,1583.86 L182.69,1576.63 L183.66,1569.47 L184.62,1562.36 L185.58,1555.33 L186.54,1548.35 L187.50,1541.44 L188.46,1534.60 L189.42,1527.81 L190.38,1521.09 L191.34,1514.44 L192.30,1507.85 L193.26,1501.32 L194.22,1494.85 L195.18,1488.45 L196.15,1482.11 L197.11,1475.84 L198.07,1469.63 L199.03,1463.49 L199.99,1457.40 L200.95,1451.38 L201.91,1445.43 L202.87,1439.54 L203.83,1433.71 L204.79,1427.95 L205.75,1422.25 L206.71,1416.61 L207.67,1411.04 L208.64,1405.53 L209.60,1400.08 L210.56,1394.70 L211.52,1389.38 L212.48,1384.13 L213.44,1378.94 L214.40,1373.81 L215.36,1368.75 L216.32,1363.75 L217.28,1358.81 L218.24,1353.94 L219.20,1349.13 L220.16,1344.38 L221.12,1339.70 L222.09,1335.09 L223.05,1330.53 L224.01,1326.04 L224.97,1321.62 L225.93,1317.25 L226.89,1312.95 L227.85,1308.72 L228.81,1304.55 L229.77,1300.44 L230.73,1296.39 L231.69,1292.41 L232.65,1288.50 L233.61,1284.64 L234.58,1280.85 L235.54,1277.13 L236.50,1273.47 L237.46,1269.87 L238.42,1266.33 L239.38,1262.86 L240.34,1259.45 L241.30,1256.11 L242.26,1252.83 L243.22,1249.61 L244.18,1246.46 L245.14,1243.37 L246.10,1240.35 L247.07,1237.38 L248.03,1234.49 L248.99,1231.65 L249.95,1228.88 L250.91,1226.17 L251.87,1223.53 L252.83,1220.95 L253.79,1218.44 L254.75,1215.98 L255.71,1213.60 L256.67,1211.27 L257.63,1209.01 L258.59,1206.81 L259.56,1204.68 L260.52,1202.61 L261.48,1200.60 L262.44,1198.66 L263.40,1196.78 L264.36,1194.97 L265.32,1193.22 L266.28,1191.53 L267.24,1189.90 L268.20,1188.34 L269.16,1186.85 L270.12,1185.41 L271.08,1184.04 L272.04,1182.74 L273.01,1181.50 L273.97,1180.32 L274.93,1179.20 L275.89,1178.15 L276.85,1177.17 L277.81,1176.24 L278.77,1175.38 L279.73,1174.59 L280.69,1173.85 L281.65,1173.18 L282.61,1172.58 L283.57,1172.04 L284.53,1171.56 L285.50,1171.15 L286.46,1170.80 L287.42,1170.51 L288.38,1170.29 L289.34,1170.13 L290.30,1170.03 L291.26,1170.00 L293.45,1175.13 L295.65,1180.24 L297.84,1185.32 L300.03,1190.38 L302.23,1195.41 L304.42,1200.42 L306.61,1205.41 L308.81,1210.37 L311.00,1215.31 L313.19,1220.23 L315.39,1225.12 L317.58,1229.99 L319.77,1234.84 L321.97,1239.66 L324.16,1244.46 L326.35,1249.23 L328.55,1253.98 L330.74,1258.71 L332.93,1263.42 L335.13,1268.10 L337.32,1272.75 L339.51,1277.39 L341.71,1282.00 L343.90,1286.58 L346.09,1291.14 L348.29,1295.68 L350.48,1300.20 L352.67,1304.69 L354.87,1309.15 L357.06,1313.60 L359.25,1318.02 L361.45,1322.41 L363.64,1326.79 L365.83,1331.14 L368.03,1335.46 L370.22,1339.76 L372.41,1344.04 L374.61,1348.30 L376.80,1352.53 L378.99,1356.74 L381.19,1360.92 L383.38,1365.08 L385.57,1369.22 L387.77,1373.33 L389.96,1377.42 L392.15,1381.48 L394.35,1385.53 L396.54,1389.54 L398.73,1393.54 L400.93,1397.51 L403.12,1401.46 L405.31,1405.38 L407.51,1409.28 L409.70,1413.16 L411.89,1417.01 L414.09,1420.84 L416.28,1424.64 L418.47,1428.43 L420.67,1432.18 L422.86,1435.92 L425.05,1439.63 L427.25,1443.32 L429.44,1446.98 L431.63,1450.62 L433.83,1454.24 L436.02,1457.83 L438.21,1461.40 L440.41,1464.94 L442.60,1468.47 L444.79,1471.96 L446.99,1475.44 L449.18,1478.89 L451.37,1482.32 L453.57,1485.72 L455.76,1489.10 L457.95,1492.46 L460.15,1495.79 L462.34,1499.10 L464.53,1502.38 L466.73,1505.65 L468.92,1508.88 L471.11,1512.10 L473.31,1515.29 L475.50,1518.46 L477.69,1521.60 L479.89,1524.72 L482.08,1527.82 L484.27,1530.89 L486.47,1533.94 L488.66,1536.96 L490.85,1539.96 L493.05,1542.94 L495.24,1545.90 L497.43,1548.83 L499.63,1551.73 L501.82,1554.62 L504.01,1557.48 L506.21,1560.31 L508.40,1563.13 L510.59,1565.92 L512.79,1568.68 L514.98,1571.42 L517.17,1574.14 L519.37,1576.84 L521.56,1579.51 L523.75,1582.15 L525.95,1584.78 L528.14,1587.38 L530.33,1589.95 L532.53,1592.50 L534.72,1595.03 L536.91,1597.54 L539.11,1600.02 L541.30,1602.48 L543.49,1604.91 L545.69,1607.32 L547.88,1609.71 L550.07,1612.07 L552.27,1614.41 L554.46,1616.73 L556.65,1619.02 L558.85,1621.29 L561.04,1623.54 L563.23,1625.76 L565.43,1627.96 L567.62,1630.13 L569.81,1632.28 L572.01,1634.41 L574.20,1636.51 L576.39,1638.59 L578.59,1640.65 L580.78,1642.68 L582.97,1644.69 L585.17,1646.67 L587.36,1648.63 L589.55,1650.57 L591.75,1652.49 L593.94,1654.38 L596.13,1656.24 L598.33,1658.09 L600.52,1659.91 L602.71,1661.70 L604.91,1663.47 L607.10,1665.22 L609.29,1666.95 L611.49,1668.65 L613.68,1670.33 L615.87,1671.98 L618.07,1673.61 L620.26,1675.22 L622.45,1676.80 L624.65,1678.36 L626.84,1679.90 L629.03,1681.41 L631.23,1682.90 L633.42,1684.36 L635.61,1685.80 L637.81,1687.22 L640.00,1688.62" stroke="#FFA500" stroke-width="3.8" fill="none" stroke-linejoin="round"/>
<line x1="220.0" y1="1332.6" x2="220.0" y2="1338.6" stroke="#DC143C" stroke-width="4"/>
<line x1="248.0" y1="1197.0" x2="248.0" y2="1203.0" stroke="#DC143C" stroke-width="4"/>
<line x1="262.0" y1="1186.0" x2="262.0" y2="1192.0" stroke="#DC143C" stroke-width="4"/>
<line x1="275.6" y1="1164.0" x2="275.6" y2="1170.0" stroke="#DC143C" stroke-width="4"/>
<line x1="288.6" y1="1152.6" x2="288.6" y2="1158.6" stroke="#DC143C" stroke-width="4"/>
<line x1="351.6" y1="1271.0" x2="351.6" y2="1281.0" stroke="#DC143C" stroke-width="4"/>
<line x1="399.0" y1="1364.0" x2="399.0" y2="1384.0" stroke="#DC143C" stroke-width="4"/>
<line x1="515.0" y1="1516.0" x2="515.0" y2="1560.0" stroke="#DC143C" stroke-width="4"/>
<path d="M138.50,1948.28 L139.46,1938.18 L140.42,1928.15 L141.38,1918.19 L142.34,1908.28 L143.30,1898.44 L144.26,1888.66 L145.23,1878.95 L146.19,1869.30 L147.15,1859.72 L148.11,1850.20 L149.07,1840.74 L150.03,1831.34 L150.99,1822.01 L151.95,1812.75 L152.91,1803.54 L153.87,1794.40 L154.83,1785.33 L155.79,1776.31 L156.75,1767.37 L157.72,1758.48 L158.68,1749.66 L159.64,1740.90 L160.60,1732.21 L161.56,1723.58 L162.52,1715.01 L163.48,1706.51 L164.44,1698.07 L165.40,1689.70 L166.36,1681.38 L167.32,1673.14 L168.28,1664.95 L169.24,1656.83 L170.20,1648.77 L171.17,1640.78 L172.13,1632.85 L173.09,1624.99 L174.05,1617.18 L175.01,1609.45 L175.97,1601.77 L176.93,1594.16 L177.89,1586.61 L178.85,1579.13 L179.81,1571.71 L180.77,1564.35 L181.73,1557.06 L182.69,1549.83 L183.66,1542.67 L184.62,1535.56 L185.58,1528.53 L186.54,1521.55 L187.50,1514.64 L188.46,1507.80 L189.42,1501.01 L190.38,1494.29 L191.34,1487.64 L192.30,1481.05 L193.26,1474.52 L194.22,1468.05 L195.18,1461.65 L196.15,1455.31 L197.11,1449.04 L198.07,1442.83 L199.03,1436.69 L199.99,1430.60 L200.95,1424.58 L201.91,1418.63 L202.87,1412.74 L203.83,1406.91 L204.79,1401.15 L205.75,1395.45 L206.71,1389.81 L207.67,1384.24 L208.64,1378.73 L209.60,1373.28 L210.56,1367.90 L211.52,1362.58 L212.48,1357.33 L213.44,1352.14 L214.40,1347.01 L215.36,1341.95 L216.32,1336.95 L217.28,1332.01 L218.24,1327.14 L219.20,1322.33 L220.16,1317.58 L221.12,1312.90 L222.09,1308.29 L223.05,1303.73 L224.01,1299.24 L224.97,1294.82 L225.93,1290.45 L226.89,1286.15 L227.85,1281.92 L228.81,1277.75 L229.77,1273.64 L230.73,1269.59 L231.69,1265.61 L232.65,1261.70 L233.61,1257.84 L234.58,1254.05 L235.54,1250.33 L236.50,1246.67 L237.46,1243.07 L238.42,1239.53 L239.38,1236.06 L240.34,1232.65 L241.30,1229.31 L242.26,1226.03 L243.22,1222.81 L244.18,1219.66 L245.14,1216.57 L246.10,1213.55 L247.07,1210.58 L248.03,1207.69 L248.99,1204.85 L249.95,1202.08 L250.91,1199.37 L251.87,1196.73 L252.83,1194.15 L253.79,1191.64 L254.75,1189.18 L255.71,1186.80 L256.67,1184.47 L257.63,1182.21 L258.59,1180.01 L259.56,1177.88 L260.52,1175.81 L261.48,1173.80 L262.44,1171.86 L263.40,1169.98 L264.36,1168.17 L265.32,1166.42 L266.28,1164.73 L267.24,1163.10 L268.20,1161.54 L269.16,1160.05 L270.12,1158.61 L271.08,1157.24 L272.04,1155.94 L273.01,1154.70 L273.97,1153.52 L274.93,1152.40 L275.89,1151.35 L276.85,1150.37 L277.81,1149.44 L278.77,1148.58 L279.73,1147.79 L280.69,1147.05 L281.65,1146.38 L282.61,1145.78 L283.57,1145.24 L284.53,1144.76 L285.50,1144.35 L286.46,1144.00 L287.42,1143.71 L288.38,1143.49 L289.34,1143.33 L290.30,1143.23 L291.26,1143.20 L293.45,1148.24 L295.65,1153.27 L297.84,1158.27 L300.03,1163.25 L302.23,1168.21 L304.42,1173.16 L306.61,1178.08 L308.81,1182.98 L311.00,1187.86 L313.19,1192.72 L315.39,1197.56 L317.58,1202.38 L319.77,1207.18 L321.97,1211.96 L324.16,1216.72 L326.35,1221.46 L328.55,1226.18 L330.74,1230.87 L332.93,1235.55 L335.13,1240.21 L337.32,1244.84 L339.51,1249.46 L341.71,1254.06 L343.90,1258.63 L346.09,1263.19 L348.29,1267.72 L350.48,1272.24 L352.67,1276.73 L354.87,1281.21 L357.06,1285.66 L359.25,1290.10 L361.45,1294.51 L363.64,1298.90 L365.83,1303.27 L368.03,1307.63 L370.22,1311.96 L372.41,1316.27 L374.61,1320.56 L376.80,1324.83 L378.99,1329.08 L381.19,1333.31 L383.38,1337.52 L385.57,1341.71 L387.77,1345.88 L389.96,1350.03 L392.15,1354.16 L394.35,1358.27 L396.54,1362.36 L398.73,1366.42 L400.93,1370.47 L403.12,1374.50 L405.31,1378.51 L407.51,1382.49 L409.70,1386.46 L411.89,1390.40 L414.09,1394.33 L416.28,1398.23 L418.47,1402.12 L420.67,1405.98 L422.86,1409.83 L425.05,1413.65 L427.25,1417.45 L429.44,1421.24 L431.63,1425.00 L433.83,1428.74 L436.02,1432.46 L438.21,1436.17 L440.41,1439.85 L442.60,1443.51 L444.79,1447.15 L446.99,1450.77 L449.18,1454.37 L451.37,1457.95 L453.57,1461.51 L455.76,1465.05 L457.95,1468.57 L460.15,1472.06 L462.34,1475.54 L464.53,1479.00 L466.73,1482.44 L468.92,1485.85 L471.11,1489.25 L473.31,1492.63 L475.50,1495.98 L477.69,1499.32 L479.89,1502.63 L482.08,1505.93 L484.27,1509.20 L486.47,1512.46 L488.66,1515.69 L490.85,1518.91 L493.05,1522.10 L495.24,1525.27 L497.43,1528.43 L499.63,1531.56 L501.82,1534.67 L504.01,1537.76 L506.21,1540.83 L508.40,1543.88 L510.59,1546.92 L512.79,1549.93 L514.98,1552.92 L517.17,1555.89 L519.37,1558.84 L521.56,1561.76 L523.75,1564.67 L525.95,1567.56 L528.14,1570.43 L530.33,1573.28 L532.53,1576.11 L534.72,1578.91 L536.91,1581.70 L539.11,1584.47 L541.30,1587.21 L543.49,1589.94 L545.69,1592.64 L547.88,1595.33 L550.07,1597.99 L552.27,1600.64 L554.46,1603.26 L556.65,1605.87 L558.85,1608.45 L561.04,1611.01 L563.23,1613.56 L565.43,1616.08 L567.62,1618.58 L569.81,1621.06 L572.01,1623.52 L574.20,1625.96 L576.39,1628.39 L578.59,1630.79 L580.78,1633.17 L582.97,1635.53 L585.17,1637.87 L587.36,1640.18 L589.55,1642.48 L591.75,1644.76 L593.94,1647.02 L596.13,1649.26 L598.33,1651.48 L600.52,1653.67 L602.71,1655.85 L604.91,1658.01 L607.10,1660.14 L609.29,1662.26 L611.49,1664.35 L613.68,1666.43 L615.87,1668.48 L618.07,1670.52 L620.26,1672.53 L622.45,1674.53 L624.65,1676.50 L626.84,1678.45 L629.03,1680.39 L631.23,1682.30 L633.42,1684.19 L635.61,1686.06 L637.81,1687.92 L640.00,1689.75" stroke="#DC143C" stroke-width="3.8" fill="none" stroke-linejoin="round"/>
<line x1="275.5" y1="811.8" x2="275.5" y2="825.8" stroke="#808080" stroke-width="4"/>
<line x1="319.2" y1="916.8" x2="319.2" y2="929.8" stroke="#808080" stroke-width="4"/>
<line x1="338.8" y1="996.8" x2="338.8" y2="1010.8" stroke="#808080" stroke-width="4"/>
<line x1="362.0" y1="1071.8" x2="362.0" y2="1085.8" stroke="#808080" stroke-width="4"/>
<line x1="403.2" y1="1166.2" x2="403.2" y2="1186.2" stroke="#808080" stroke-width="4"/>
<line x1="420.8" y1="1199.5" x2="420.8" y2="1219.5" stroke="#808080" stroke-width="4"/>
<line x1="441.5" y1="1219.5" x2="441.5" y2="1251.5" stroke="#808080" stroke-width="4"/>
<line x1="459.6" y1="1271.6" x2="459.6" y2="1299.6" stroke="#808080" stroke-width="4"/>
<path d="M138.50,1681.33 L139.46,1671.23 L140.42,1661.20 L141.38,1651.24 L142.34,1641.33 L143.30,1631.49 L144.26,1621.71 L145.23,1612.00 L146.19,1602.35 L147.15,1592.77 L148.11,1583.25 L149.07,1573.79 L150.03,1564.39 L150.99,1555.06 L151.95,1545.80 L152.91,1536.59 L153.87,1527.45 L154.83,1518.38 L155.79,1509.36 L156.75,1500.42 L157.72,1491.53 L158.68,1482.71 L159.64,1473.95 L160.60,1465.26 L161.56,1456.63 L162.52,1448.06 L163.48,1439.56 L164.44,1431.12 L165.40,1422.75 L166.36,1414.43 L167.32,1406.19 L168.28,1398.00 L169.24,1389.88 L170.20,1381.82 L171.17,1373.83 L172.13,1365.90 L173.09,1358.04 L174.05,1350.23 L175.01,1342.50 L175.97,1334.82 L176.93,1327.21 L177.89,1319.66 L178.85,1312.18 L179.81,1304.76 L180.77,1297.40 L181.73,1290.11 L182.69,1282.88 L183.66,1275.72 L184.62,1268.61 L185.58,1261.58 L186.54,1254.60 L187.50,1247.69 L188.46,1240.85 L189.42,1234.06 L190.38,1227.34 L191.34,1220.69 L192.30,1214.10 L193.26,1207.57 L194.22,1201.10 L195.18,1194.70 L196.15,1188.36 L197.11,1182.09 L198.07,1175.88 L199.03,1169.74 L199.99,1163.65 L200.95,1157.63 L201.91,1151.68 L202.87,1145.79 L203.83,1139.96 L204.79,1134.20 L205.75,1128.50 L206.71,1122.86 L207.67,1117.29 L208.64,1111.78 L209.60,1106.33 L210.56,1100.95 L211.52,1095.63 L212.48,1090.38 L213.44,1085.19 L214.40,1080.06 L215.36,1075.00 L216.32,1070.00 L217.28,1065.06 L218.24,1060.19 L219.20,1055.38 L220.16,1050.63 L221.12,1045.95 L222.09,1041.34 L223.05,1036.78 L224.01,1032.29 L224.97,1027.87 L225.93,1023.50 L226.89,1019.20 L227.85,1014.97 L228.81,1010.80 L229.77,1006.69 L230.73,1002.64 L231.69,998.66 L232.65,994.75 L233.61,990.89 L234.58,987.10 L235.54,983.38 L236.50,979.72 L237.46,976.12 L238.42,972.58 L239.38,969.11 L240.34,965.70 L241.30,962.36 L242.26,959.08 L243.22,955.86 L244.18,952.71 L245.14,949.62 L246.10,946.60 L247.07,943.63 L248.03,940.74 L248.99,937.90 L249.95,935.13 L250.91,932.42 L251.87,929.78 L252.83,927.20 L253.79,924.69 L254.75,922.23 L255.71,919.85 L256.67,917.52 L257.63,915.26 L258.59,913.06 L259.56,910.93 L260.52,908.86 L261.48,906.85 L262.44,904.91 L263.40,903.03 L264.36,901.22 L265.32,899.47 L266.28,897.78 L267.24,896.15 L268.20,894.59 L269.16,893.10 L270.12,891.66 L271.08,890.29 L272.04,888.99 L273.01,887.75 L273.97,886.57 L274.93,885.45 L275.89,884.40 L276.85,883.42 L277.81,882.49 L278.77,881.63 L279.73,880.84 L280.69,880.10 L281.65,879.43 L282.61,878.83 L283.57,878.29 L284.53,877.81 L285.50,877.40 L286.46,877.05 L287.42,876.76 L288.38,876.54 L289.34,876.38 L290.30,876.28 L291.26,876.25 L293.45,881.56 L295.65,886.87 L297.84,892.18 L300.03,897.50 L302.23,902.82 L304.42,908.14 L306.61,913.46 L308.81,918.78 L311.00,924.11 L313.19,929.43 L315.39,934.76 L317.58,940.10 L319.77,945.43 L321.97,950.76 L324.16,956.10 L326.35,961.44 L328.55,966.78 L330.74,972.13 L332.93,977.47 L335.13,982.82 L337.32,988.17 L339.51,993.52 L341.71,998.88 L343.90,1004.24 L346.09,1009.59 L348.29,1014.95 L350.48,1020.32 L352.67,1025.68 L354.87,1031.05 L357.06,1036.42 L359.25,1041.79 L361.45,1047.16 L363.64,1052.53 L365.83,1057.91 L368.03,1063.29 L370.22,1068.67 L372.41,1074.05 L374.61,1079.44 L376.80,1084.83 L378.99,1090.21 L381.19,1095.61 L383.38,1101.00 L385.57,1106.39 L387.77,1111.79 L389.96,1117.19 L392.15,1122.59 L394.35,1128.00 L396.54,1133.40 L398.73,1138.81 L400.93,1144.22 L403.12,1149.63 L405.31,1155.04 L407.51,1160.46 L409.70,1165.88 L411.89,1171.30 L414.09,1176.72 L416.28,1182.14 L418.47,1187.57 L420.67,1193.00 L422.86,1198.43 L425.05,1203.86 L427.25,1209.29 L429.44,1214.73 L431.63,1220.17 L433.83,1225.61 L436.02,1231.05 L438.21,1236.49 L440.41,1241.94 L442.60,1247.39 L444.79,1252.84 L446.99,1258.29 L449.18,1263.75 L451.37,1269.20 L453.57,1274.66 L455.76,1280.12 L457.95,1285.59 L460.15,1291.05 L462.34,1296.52 L464.53,1301.99 L466.73,1307.46 L468.92,1312.93 L471.11,1318.41 L473.31,1323.88 L475.50,1329.36 L477.69,1334.84 L479.89,1340.33 L482.08,1345.81 L484.27,1351.30 L486.47,1356.79 L488.66,1362.28 L490.85,1367.78 L493.05,1373.27 L495.24,1378.77 L497.43,1384.27 L499.63,1389.77 L501.82,1395.27 L504.01,1400.78 L506.21,1406.29 L508.40,1411.80 L510.59,1417.31 L512.79,1422.82 L514.98,1428.34 L517.17,1433.86 L519.37,1439.38 L521.56,1444.90 L523.75,1450.43 L525.95,1455.95 L528.14,1461.48 L530.33,1467.01 L532.53,1472.54 L534.72,1478.08 L536.91,1483.62 L539.11,1489.15 L541.30,1494.69 L543.49,1500.24 L545.69,1505.78 L547.88,1511.33 L550.07,1516.88 L552.27,1522.43 L554.46,1527.98 L556.65,1533.54 L558.85,1539.09 L561.04,1544.65 L563.23,1550.21 L565.43,1555.78 L567.62,1561.34 L569.81,1566.91 L572.01,1572.48 L574.20,1578.05 L576.39,1583.63 L578.59,1589.20 L580.78,1594.78 L582.97,1600.36 L585.17,1605.94 L587.36,1611.52 L589.55,1617.11 L591.75,1622.70 L593.94,1628.29 L596.13,1633.88 L598.33,1639.47 L600.52,1645.07 L602.71,1650.67 L604.91,1656.27 L607.10,1661.87 L609.29,1667.47 L611.49,1673.08 L613.68,1678.69 L615.87,1684.30 L618.07,1689.91 L620.26,1695.53 L622.45,1701.14 L624.65,1706.76 L626.84,1712.38 L629.03,1718.01 L631.23,1723.63 L633.42,1729.26 L635.61,1734.89 L637.81,1740.52 L640.00,1746.15" stroke="#808080" stroke-width="3.8" fill="none" stroke-linejoin="round"/>
<line x1="275.5" y1="879.8" x2="275.5" y2="891.8" stroke="#A9A9A9" stroke-width="4"/>
<line x1="300.0" y1="923.0" x2="300.0" y2="938.0" stroke="#A9A9A9" stroke-width="4"/>
<line x1="319.2" y1="961.5" x2="319.2" y2="974.5" stroke="#A9A9A9" stroke-width="4"/>
<line x1="338.8" y1="1034.8" x2="338.8" y2="1048.8" stroke="#A9A9A9" stroke-width="4"/>
<line x1="362.0" y1="1100.5" x2="362.0" y2="1114.5" stroke="#A9A9A9" stroke-width="4"/>
<line x1="403.2" y1="1197.2" x2="403.2" y2="1215.2" stroke="#A9A9A9" stroke-width="4"/>
<line x1="420.8" y1="1230.2" x2="420.8" y2="1252.2" stroke="#A9A9A9" stroke-width="4"/>
<line x1="441.6" y1="1243.0" x2="441.6" y2="1259.0" stroke="#A9A9A9" stroke-width="4"/>
<line x1="459.0" y1="1310.0" x2="459.0" y2="1344.0" stroke="#A9A9A9" stroke-width="4"/>
<path d="M138.50,1701.33 L139.46,1691.23 L140.42,1681.20 L141.38,1671.24 L142.34,1661.33 L143.30,1651.49 L144.26,1641.71 L145.23,1632.00 L146.19,1622.35 L147.15,1612.77 L148.11,1603.25 L149.07,1593.79 L150.03,1584.39 L150.99,1575.06 L151.95,1565.80 L152.91,1556.59 L153.87,1547.45 L154.83,1538.38 L155.79,1529.36 L156.75,1520.42 L157.72,1511.53 L158.68,1502.71 L159.64,1493.95 L160.60,1485.26 L161.56,1476.63 L162.52,1468.06 L163.48,1459.56 L164.44,1451.12 L165.40,1442.75 L166.36,1434.43 L167.32,1426.19 L168.28,1418.00 L169.24,1409.88 L170.20,1401.82 L171.17,1393.83 L172.13,1385.90 L173.09,1378.04 L174.05,1370.23 L175.01,1362.50 L175.97,1354.82 L176.93,1347.21 L177.89,1339.66 L178.85,1332.18 L179.81,1324.76 L180.77,1317.40 L181.73,1310.11 L182.69,1302.88 L183.66,1295.72 L184.62,1288.61 L185.58,1281.58 L186.54,1274.60 L187.50,1267.69 L188.46,1260.85 L189.42,1254.06 L190.38,1247.34 L191.34,1240.69 L192.30,1234.10 L193.26,1227.57 L194.22,1221.10 L195.18,1214.70 L196.15,1208.36 L197.11,1202.09 L198.07,1195.88 L199.03,1189.74 L199.99,1183.65 L200.95,1177.63 L201.91,1171.68 L202.87,1165.79 L203.83,1159.96 L204.79,1154.20 L205.75,1148.50 L206.71,1142.86 L207.67,1137.29 L208.64,1131.78 L209.60,1126.33 L210.56,1120.95 L211.52,1115.63 L212.48,1110.38 L213.44,1105.19 L214.40,1100.06 L215.36,1095.00 L216.32,1090.00 L217.28,1085.06 L218.24,1080.19 L219.20,1075.38 L220.16,1070.63 L221.12,1065.95 L222.09,1061.34 L223.05,1056.78 L224.01,1052.29 L224.97,1047.87 L225.93,1043.50 L226.89,1039.20 L227.85,1034.97 L228.81,1030.80 L229.77,1026.69 L230.73,1022.64 L231.69,1018.66 L232.65,1014.75 L233.61,1010.89 L234.58,1007.10 L235.54,1003.38 L236.50,999.72 L237.46,996.12 L238.42,992.58 L239.38,989.11 L240.34,985.70 L241.30,982.36 L242.26,979.08 L243.22,975.86 L244.18,972.71 L245.14,969.62 L246.10,966.60 L247.07,963.63 L248.03,960.74 L248.99,957.90 L249.95,955.13 L250.91,952.42 L251.87,949.78 L252.83,947.20 L253.79,944.69 L254.75,942.23 L255.71,939.85 L256.67,937.52 L257.63,935.26 L258.59,933.06 L259.56,930.93 L260.52,928.86 L261.48,926.85 L262.44,924.91 L263.40,923.03 L264.36,921.22 L265.32,919.47 L266.28,917.78 L267.24,916.15 L268.20,914.59 L269.16,913.10 L270.12,911.66 L271.08,910.29 L272.04,908.99 L273.01,907.75 L273.97,906.57 L274.93,905.45 L275.89,904.40 L276.85,903.42 L277.81,902.49 L278.77,901.63 L279.73,900.84 L280.69,900.10 L281.65,899.43 L282.61,898.83 L283.57,898.29 L284.53,897.81 L285.50,897.40 L286.46,897.05 L287.42,896.76 L288.38,896.54 L289.34,896.38 L290.30,896.28 L291.26,896.25 L293.45,901.60 L295.65,906.95 L297.84,912.30 L300.03,917.64 L302.23,922.97 L304.42,928.30 L306.61,933.62 L308.81,938.94 L311.00,944.26 L313.19,949.57 L315.39,954.87 L317.58,960.17 L319.77,965.46 L321.97,970.75 L324.16,976.04 L326.35,981.32 L328.55,986.59 L330.74,991.86 L332.93,997.12 L335.13,1002.38 L337.32,1007.63 L339.51,1012.88 L341.71,1018.13 L343.90,1023.36 L346.09,1028.60 L348.29,1033.83 L350.48,1039.05 L352.67,1044.27 L354.87,1049.48 L357.06,1054.69 L359.25,1059.89 L361.45,1065.09 L363.64,1070.28 L365.83,1075.47 L368.03,1080.66 L370.22,1085.83 L372.41,1091.01 L374.61,1096.17 L376.80,1101.34 L378.99,1106.50 L381.19,1111.65 L383.38,1116.80 L385.57,1121.94 L387.77,1127.08 L389.96,1132.21 L392.15,1137.34 L394.35,1142.46 L396.54,1147.58 L398.73,1152.69 L400.93,1157.80 L403.12,1162.90 L405.31,1168.00 L407.51,1173.09 L409.70,1178.18 L411.89,1183.26 L414.09,1188.34 L416.28,1193.41 L418.47,1198.48 L420.67,1203.54 L422.86,1208.59 L425.05,1213.65 L427.25,1218.69 L429.44,1223.74 L431.63,1228.77 L433.83,1233.80 L436.02,1238.83 L438.21,1243.85 L440.41,1248.87 L442.60,1253.88 L444.79,1258.89 L446.99,1263.89 L449.18,1268.89 L451.37,1273.88 L453.57,1278.86 L455.76,1283.85 L457.95,1288.82 L460.15,1293.79 L462.34,1298.76 L464.53,1303.72 L466.73,1308.68 L468.92,1313.63 L471.11,1318.58 L473.31,1323.52 L475.50,1328.45 L477.69,1333.38 L479.89,1338.31 L482.08,1343.23 L484.27,1348.15 L486.47,1353.06 L488.66,1357.96 L490.85,1362.86 L493.05,1367.76 L495.24,1372.65 L497.43,1377.54 L499.63,1382.42 L501.82,1387.29 L504.01,1392.16 L506.21,1397.03 L508.40,1401.89 L510.59,1406.75 L512.79,1411.60 L514.98,1416.44 L517.17,1421.28 L519.37,1426.12 L521.56,1430.95 L523.75,1435.77 L525.95,1440.59 L528.14,1445.41 L530.33,1450.22 L532.53,1455.02 L534.72,1459.82 L536.91,1464.62 L539.11,1469.41 L541.30,1474.19 L543.49,1478.97 L545.69,1483.75 L547.88,1488.52 L550.07,1493.28 L552.27,1498.04 L554.46,1502.80 L556.65,1507.55 L558.85,1512.29 L561.04,1517.03 L563.23,1521.77 L565.43,1526.50 L567.62,1531.22 L569.81,1535.94 L572.01,1540.65 L574.20,1545.36 L576.39,1550.07 L578.59,1554.77 L580.78,1559.46 L582.97,1564.15 L585.17,1568.83 L587.36,1573.51 L589.55,1578.19 L591.75,1582.86 L593.94,1587.52 L596.13,1592.18 L598.33,1596.83 L600.52,1601.48 L602.71,1606.13 L604.91,1610.77 L607.10,1615.40 L609.29,1620.03 L611.49,1624.65 L613.68,1629.27 L615.87,1633.88 L618.07,1638.49 L620.26,1643.10 L622.45,1647.69 L624.65,1652.29 L626.84,1656.88 L629.03,1661.46 L631.23,1666.04 L633.42,1670.61 L635.61,1675.18 L637.81,1679.74 L640.00,1684.30" stroke="#A9A9A9" stroke-width="3.8" fill="none" stroke-linejoin="round"/>
<line x1="318.8" y1="925.8" x2="318.8" y2="937.8" stroke="#D3D3D3" stroke-width="4"/>
<line x1="338.8" y1="986.0" x2="338.8" y2="1000.0" stroke="#D3D3D3" stroke-width="4"/>
<line x1="362.0" y1="1064.2" x2="362.0" y2="1078.2" stroke="#D3D3D3" stroke-width="4"/>
<line x1="403.2" y1="1123.5" x2="403.2" y2="1141.5" stroke="#D3D3D3" stroke-width="4"/>
<line x1="420.8" y1="1148.5" x2="420.8" y2="1166.5" stroke="#D3D3D3" stroke-width="4"/>
<line x1="441.5" y1="1181.2" x2="441.5" y2="1207.2" stroke="#D3D3D3" stroke-width="4"/>
<line x1="459.2" y1="1231.5" x2="459.2" y2="1253.5" stroke="#D3D3D3" stroke-width="4"/>
<path d="M138.50,1670.58 L139.46,1660.48 L140.42,1650.45 L141.38,1640.49 L142.34,1630.58 L143.30,1620.74 L144.26,1610.96 L145.23,1601.25 L146.19,1591.60 L147.15,1582.02 L148.11,1572.50 L149.07,1563.04 L150.03,1553.64 L150.99,1544.31 L151.95,1535.05 L152.91,1525.84 L153.87,1516.70 L154.83,1507.63 L155.79,1498.61 L156.75,1489.67 L157.72,1480.78 L158.68,1471.96 L159.64,1463.20 L160.60,1454.51 L161.56,1445.88 L162.52,1437.31 L163.48,1428.81 L164.44,1420.37 L165.40,1412.00 L166.36,1403.68 L167.32,1395.44 L168.28,1387.25 L169.24,1379.13 L170.20,1371.07 L171.17,1363.08 L172.13,1355.15 L173.09,1347.29 L174.05,1339.48 L175.01,1331.75 L175.97,1324.07 L176.93,1316.46 L177.89,1308.91 L178.85,1301.43 L179.81,1294.01 L180.77,1286.65 L181.73,1279.36 L182.69,1272.13 L183.66,1264.97 L184.62,1257.86 L185.58,1250.83 L186.54,1243.85 L187.50,1236.94 L188.46,1230.10 L189.42,1223.31 L190.38,1216.59 L191.34,1209.94 L192.30,1203.35 L193.26,1196.82 L194.22,1190.35 L195.18,1183.95 L196.15,1177.61 L197.11,1171.34 L198.07,1165.13 L199.03,1158.99 L199.99,1152.90 L200.95,1146.88 L201.91,1140.93 L202.87,1135.04 L203.83,1129.21 L204.79,1123.45 L205.75,1117.75 L206.71,1112.11 L207.67,1106.54 L208.64,1101.03 L209.60,1095.58 L210.56,1090.20 L211.52,1084.88 L212.48,1079.63 L213.44,1074.44 L214.40,1069.31 L215.36,1064.25 L216.32,1059.25 L217.28,1054.31 L218.24,1049.44 L219.20,1044.63 L220.16,1039.88 L221.12,1035.20 L222.09,1030.59 L223.05,1026.03 L224.01,1021.54 L224.97,1017.12 L225.93,1012.75 L226.89,1008.45 L227.85,1004.22 L228.81,1000.05 L229.77,995.94 L230.73,991.89 L231.69,987.91 L232.65,984.00 L233.61,980.14 L234.58,976.35 L235.54,972.63 L236.50,968.97 L237.46,965.37 L238.42,961.83 L239.38,958.36 L240.34,954.95 L241.30,951.61 L242.26,948.33 L243.22,945.11 L244.18,941.96 L245.14,938.87 L246.10,935.85 L247.07,932.88 L248.03,929.99 L248.99,927.15 L249.95,924.38 L250.91,921.67 L251.87,919.03 L252.83,916.45 L253.79,913.94 L254.75,911.48 L255.71,909.10 L256.67,906.77 L257.63,904.51 L258.59,902.31 L259.56,900.18 L260.52,898.11 L261.48,896.10 L262.44,894.16 L263.40,892.28 L264.36,890.47 L265.32,888.72 L266.28,887.03 L267.24,885.40 L268.20,883.84 L269.16,882.35 L270.12,880.91 L271.08,879.54 L272.04,878.24 L273.01,877.00 L273.97,875.82 L274.93,874.70 L275.89,873.65 L276.85,872.67 L277.81,871.74 L278.77,870.88 L279.73,870.09 L280.69,869.35 L281.65,868.68 L282.61,868.08 L283.57,867.54 L284.53,867.06 L285.50,866.65 L286.46,866.30 L287.42,866.01 L288.38,865.79 L289.34,865.63 L290.30,865.53 L291.26,865.50 L293.45,871.23 L295.65,876.97 L297.84,882.71 L300.03,888.46 L302.23,894.20 L304.42,899.95 L306.61,905.70 L308.81,911.45 L311.00,917.21 L313.19,922.97 L315.39,928.73 L317.58,934.49 L319.77,940.26 L321.97,946.03 L324.16,951.80 L326.35,957.58 L328.55,963.35 L330.74,969.13 L332.93,974.92 L335.13,980.70 L337.32,986.49 L339.51,992.28 L341.71,998.07 L343.90,1003.87 L346.09,1009.67 L348.29,1015.47 L350.48,1021.27 L352.67,1027.08 L354.87,1032.89 L357.06,1038.70 L359.25,1044.52 L361.45,1050.34 L363.64,1056.16 L365.83,1061.98 L368.03,1067.80 L370.22,1073.63 L372.41,1079.46 L374.61,1085.30 L376.80,1091.13 L378.99,1096.97 L381.19,1102.81 L383.38,1108.66 L385.57,1114.50 L387.77,1120.35 L389.96,1126.20 L392.15,1132.06 L394.35,1137.92 L396.54,1143.78 L398.73,1149.64 L400.93,1155.51 L403.12,1161.37 L405.31,1167.24 L407.51,1173.12 L409.70,1178.99 L411.89,1184.87 L414.09,1190.75 L416.28,1196.64 L418.47,1202.52 L420.67,1208.41 L422.86,1214.31 L425.05,1220.20 L427.25,1226.10 L429.44,1232.00 L431.63,1237.90 L433.83,1243.81 L436.02,1249.71 L438.21,1255.63 L440.41,1261.54 L442.60,1267.45 L444.79,1273.37 L446.99,1279.29 L449.18,1285.22 L451.37,1291.15 L453.57,1297.08 L455.76,1303.01 L457.95,1308.94 L460.15,1314.88 L462.34,1320.82 L464.53,1326.76 L466.73,1332.71 L468.92,1338.66 L471.11,1344.61 L473.31,1350.56 L475.50,1356.52 L477.69,1362.47 L479.89,1368.44 L482.08,1374.40 L484.27,1380.37 L486.47,1386.34 L488.66,1392.31 L490.85,1398.28 L493.05,1404.26 L495.24,1410.24 L497.43,1416.22 L499.63,1422.21 L501.82,1428.20 L504.01,1434.19 L506.21,1440.18 L508.40,1446.18 L510.59,1452.18 L512.79,1458.18 L514.98,1464.18 L517.17,1470.19 L519.37,1476.20 L521.56,1482.21 L523.75,1488.22 L525.95,1494.24 L528.14,1500.26 L530.33,1506.28 L532.53,1512.31 L534.72,1518.34 L536.91,1524.37 L539.11,1530.40 L541.30,1536.44 L543.49,1542.48 L545.69,1548.52 L547.88,1554.56 L550.07,1560.61 L552.27,1566.66 L554.46,1572.71 L556.65,1578.76 L558.85,1584.82 L561.04,1590.88 L563.23,1596.94 L565.43,1603.01 L567.62,1609.08 L569.81,1615.15 L572.01,1621.22 L574.20,1627.30 L576.39,1633.38 L578.59,1639.46 L580.78,1645.54 L582.97,1651.63 L585.17,1657.72 L587.36,1663.81 L589.55,1669.91 L591.75,1676.00 L593.94,1682.10 L596.13,1688.21 L598.33,1694.31 L600.52,1700.42 L602.71,1706.53 L604.91,1712.64 L607.10,1718.76 L609.29,1724.88 L611.49,1731.00 L613.68,1737.12 L615.87,1743.25 L618.07,1749.38 L620.26,1755.51 L622.45,1761.65 L624.65,1767.78 L626.84,1773.92 L629.03,1780.07 L631.23,1786.21 L633.42,1792.36 L635.61,1798.51 L637.81,1804.66 L640.00,1810.82" stroke="#D3D3D3" stroke-width="3.8" fill="none" stroke-linejoin="round"/>
<path d="M369.0,1244.6 l7.2,11.8 l-7.2,11.8 l-7.2,-11.8z" fill="#4169E1"/>
<path d="M390.0,1271.2 l7.2,11.8 l-7.2,11.8 l-7.2,-11.8z" fill="#4169E1"/>
<path d="M399.0,1280.7 l7.2,11.8 l-7.2,11.8 l-7.2,-11.8z" fill="#4169E1"/>
<path d="M369.0,1338.2 l7.2,11.8 l-7.2,11.8 l-7.2,-11.8z" fill="#DAA520"/>
<path d="M390.0,1362.2 l7.2,11.8 l-7.2,11.8 l-7.2,-11.8z" fill="#DAA520"/>
<path d="M369.5,1284.7 l7.2,11.8 l-7.2,11.8 l-7.2,-11.8z" fill="#DC143C"/>
<path d="M385.0,1298.2 l7.2,11.8 l-7.2,11.8 l-7.2,-11.8z" fill="#DC143C"/>
<path d="M391.0,1306.7 l7.2,11.8 l-7.2,11.8 l-7.2,-11.8z" fill="#DC143C"/>
<path d="M369.2,1175.7 l7.2,11.8 l-7.2,11.8 l-7.2,-11.8z" fill="#808080"/>
<path d="M389.5,1195.2 l7.2,11.8 l-7.2,11.8 l-7.2,-11.8z" fill="#808080"/>
<circle cx="242.0" cy="1139.0" r="4.9" fill="#00FFFF"/>
<circle cx="244.0" cy="1146.0" r="4.9" fill="#00FFFF"/>
<circle cx="249.0" cy="1132.0" r="4.9" fill="#00FFFF"/>
<circle cx="250.0" cy="1141.0" r="4.9" fill="#00FFFF"/>
<circle cx="255.0" cy="1127.0" r="4.9" fill="#00FFFF"/>
<circle cx="256.0" cy="1134.0" r="4.9" fill="#00FFFF"/>
<circle cx="242.4" cy="1161.0" r="4.9" fill="#00FFFF"/>
<circle cx="433.0" cy="1384.0" r="4.9" fill="#00FFFF"/>
<circle cx="433.0" cy="1390.0" r="4.9" fill="#00FFFF"/>
<circle cx="433.0" cy="1400.0" r="4.9" fill="#00FFFF"/>
<circle cx="433.0" cy="1434.0" r="4.9" fill="#00FFFF"/>
<circle cx="460.4" cy="1359.0" r="4.9" fill="#00FFFF"/>
<circle cx="460.4" cy="1390.0" r="4.9" fill="#00FFFF"/>
<circle cx="460.4" cy="1408.0" r="4.9" fill="#00FFFF"/>
<circle cx="460.4" cy="1459.0" r="4.9" fill="#00FFFF"/>
<circle cx="474.0" cy="1409.0" r="4.9" fill="#00FFFF"/>
<circle cx="474.0" cy="1459.0" r="4.9" fill="#00FFFF"/>
<circle cx="474.0" cy="1489.0" r="4.9" fill="#00FFFF"/>
<circle cx="515.4" cy="1438.4" r="4.9" fill="#00FFFF"/>
<circle cx="165.6" cy="1474.0" r="4.9" fill="#4169E1"/>
<circle cx="221.6" cy="1235.0" r="4.9" fill="#4169E1"/>
<circle cx="248.6" cy="1094.0" r="4.9" fill="#4169E1"/>
<circle cx="275.6" cy="1076.0" r="4.9" fill="#4169E1"/>
<circle cx="289.0" cy="1077.0" r="4.9" fill="#4169E1"/>
<circle cx="351.0" cy="1222.4" r="4.9" fill="#4169E1"/>
<circle cx="488.0" cy="1413.0" r="4.9" fill="#4169E1"/>
<circle cx="515.0" cy="1490.0" r="4.9" fill="#4169E1"/>
<circle cx="330.5" cy="1279.0" r="4.9" fill="#DAA520"/>
<circle cx="214.4" cy="1400.0" r="4.9" fill="#FFA500"/>
<circle cx="214.4" cy="1415.0" r="4.9" fill="#FFA500"/>
<circle cx="283.0" cy="1175.0" r="4.9" fill="#FFA500"/>
<circle cx="283.0" cy="1183.0" r="4.9" fill="#FFA500"/>
<circle cx="296.0" cy="1184.0" r="4.9" fill="#FFA500"/>
<circle cx="297.0" cy="1194.0" r="4.9" fill="#FFA500"/>
<circle cx="297.0" cy="1199.0" r="4.9" fill="#FFA500"/>
<circle cx="310.0" cy="1200.5" r="4.9" fill="#FFA500"/>
<circle cx="310.0" cy="1209.5" r="4.9" fill="#FFA500"/>
<circle cx="310.4" cy="1214.0" r="4.9" fill="#FFA500"/>
<circle cx="323.6" cy="1216.4" r="4.9" fill="#FFA500"/>
<circle cx="323.6" cy="1229.0" r="4.9" fill="#FFA500"/>
<circle cx="324.4" cy="1234.0" r="4.9" fill="#FFA500"/>
<circle cx="337.6" cy="1252.0" r="4.9" fill="#FFA500"/>
<circle cx="337.6" cy="1260.0" r="4.9" fill="#FFA500"/>
<circle cx="338.0" cy="1266.0" r="4.9" fill="#FFA500"/>
<circle cx="351.4" cy="1251.0" r="4.9" fill="#FFA500"/>
<circle cx="351.4" cy="1257.5" r="4.9" fill="#FFA500"/>
<circle cx="351.6" cy="1285.0" r="4.9" fill="#FFA500"/>
<circle cx="351.6" cy="1335.6" r="4.9" fill="#FFA500"/>
<circle cx="378.0" cy="1328.0" r="4.9" fill="#FFA500"/>
<circle cx="378.0" cy="1383.0" r="4.9" fill="#FFA500"/>
<circle cx="392.2" cy="1249.5" r="4.9" fill="#FFA500"/>
<circle cx="405.6" cy="1361.0" r="4.9" fill="#FFA500"/>
<circle cx="405.6" cy="1370.0" r="4.9" fill="#FFA500"/>
<circle cx="405.6" cy="1381.0" r="4.9" fill="#FFA500"/>
<circle cx="405.6" cy="1393.0" r="4.9" fill="#FFA500"/>
<circle cx="419.4" cy="1341.0" r="4.9" fill="#FFA500"/>
<circle cx="419.4" cy="1397.0" r="4.9" fill="#FFA500"/>
<circle cx="220.0" cy="1335.6" r="4.9" fill="#DC143C"/>
<circle cx="248.0" cy="1200.0" r="4.9" fill="#DC143C"/>
<circle cx="262.0" cy="1189.0" r="4.9" fill="#DC143C"/>
<circle cx="275.6" cy="1167.0" r="4.9" fill="#DC143C"/>
<circle cx="288.6" cy="1155.6" r="4.9" fill="#DC143C"/>
<circle cx="351.6" cy="1276.0" r="4.9" fill="#DC143C"/>
<circle cx="399.0" cy="1374.0" r="4.9" fill="#DC143C"/>
<circle cx="515.0" cy="1538.0" r="4.9" fill="#DC143C"/>
<circle cx="275.5" cy="818.8" r="4.9" fill="#808080"/>
<circle cx="319.2" cy="923.2" r="4.9" fill="#808080"/>
<circle cx="338.8" cy="1003.8" r="4.9" fill="#808080"/>
<circle cx="362.0" cy="1078.8" r="4.9" fill="#808080"/>
<circle cx="403.2" cy="1176.2" r="4.9" fill="#808080"/>
<circle cx="420.8" cy="1209.5" r="4.9" fill="#808080"/>
<circle cx="441.5" cy="1235.5" r="4.9" fill="#808080"/>
<circle cx="459.6" cy="1285.6" r="4.9" fill="#808080"/>
<circle cx="275.5" cy="885.8" r="4.9" fill="#A9A9A9"/>
<circle cx="300.0" cy="930.5" r="4.9" fill="#A9A9A9"/>
<circle cx="319.2" cy="968.0" r="4.9" fill="#A9A9A9"/>
<circle cx="338.8" cy="1041.8" r="4.9" fill="#A9A9A9"/>
<circle cx="362.0" cy="1107.5" r="4.9" fill="#A9A9A9"/>
<circle cx="403.2" cy="1206.2" r="4.9" fill="#A9A9A9"/>
<circle cx="420.8" cy="1241.2" r="4.9" fill="#A9A9A9"/>
<circle cx="441.6" cy="1251.0" r="4.9" fill="#A9A9A9"/>
<circle cx="459.0" cy="1327.0" r="4.9" fill="#A9A9A9"/>
<circle cx="318.8" cy="931.8" r="4.9" fill="#D3D3D3"/>
<circle cx="338.8" cy="993.0" r="4.9" fill="#D3D3D3"/>
<circle cx="362.0" cy="1071.2" r="4.9" fill="#D3D3D3"/>
<circle cx="403.2" cy="1132.5" r="4.9" fill="#D3D3D3"/>
<circle cx="420.8" cy="1157.5" r="4.9" fill="#D3D3D3"/>
<circle cx="441.5" cy="1194.2" r="4.9" fill="#D3D3D3"/>
<circle cx="459.2" cy="1242.5" r="4.9" fill="#D3D3D3"/>
</g>
<rect x="140.50" y="810.40" width="835.40" height="731.60" fill="none" stroke="#000" stroke-width="4.8"/>
<rect x="157.8" y="20.0" width="450.0" height="351.6" fill="#fff" fill-opacity="0.8" stroke="#000" stroke-opacity="0.85" stroke-width="2.4"/>
<g font-family='"Liberation Serif","DejaVu Serif",serif' font-size="33" fill="#000">
<line x1="170" y1="46.3" x2="243.8" y2="46.3" stroke="#000" stroke-width="4.2"/>
<text x="254.8" y="57.6" textLength="102" lengthAdjust="spacingAndGlyphs">best-fit</text>
<line x1="207.2" y1="77.3" x2="207.2" y2="112.1" stroke="#4169E1" stroke-width="4"/>
<path d="M207.2,82.9 l7.2,11.8 l-7.2,11.8 l-7.2,-11.8z" fill="#4169E1"/>
<text x="253.6" y="106.5" textLength="65.0" lengthAdjust="spacingAndGlyphs">LT<tspan dx="5" font-style="italic">g</tspan></text>
<line x1="207.2" y1="126.2" x2="207.2" y2="161.0" stroke="#DAA520" stroke-width="4"/>
<path d="M207.2,131.8 l7.2,11.8 l-7.2,11.8 l-7.2,-11.8z" fill="#DAA520"/>
<text x="253.6" y="155.4" textLength="58.8" lengthAdjust="spacingAndGlyphs">LT<tspan dx="5" font-style="italic">i</tspan></text>
<line x1="207.2" y1="175.1" x2="207.2" y2="209.9" stroke="#DC143C" stroke-width="4"/>
<path d="M207.2,180.7 l7.2,11.8 l-7.2,11.8 l-7.2,-11.8z" fill="#DC143C"/>
<text x="253.6" y="204.3" textLength="63.4" lengthAdjust="spacingAndGlyphs">LT<tspan dx="5" font-style="italic">r</tspan></text>
<line x1="207.2" y1="224.0" x2="207.2" y2="258.8" stroke="#808080" stroke-width="4"/>
<path d="M207.2,229.6 l7.2,11.8 l-7.2,11.8 l-7.2,-11.8z" fill="#808080"/>
<text x="253.6" y="253.2" textLength="66.2" lengthAdjust="spacingAndGlyphs">LT<tspan dx="5" font-style="italic">u</tspan></text>
<line x1="207.2" y1="272.9" x2="207.2" y2="307.7" stroke="#00FFFF" stroke-width="4"/>
<circle cx="207.2" cy="290.3" r="4.9" fill="#00FFFF"/>
<text x="253.6" y="302.1" font-style="italic" textLength="14.4" lengthAdjust="spacingAndGlyphs">c</text>
<line x1="207.2" y1="321.8" x2="207.2" y2="356.6" stroke="#4169E1" stroke-width="4"/>
<circle cx="207.2" cy="339.2" r="4.9" fill="#4169E1"/>
<text x="253.6" y="351.0" font-style="italic" textLength="15.8" lengthAdjust="spacingAndGlyphs">g</text>
<line x1="463.4" y1="28.6" x2="463.4" y2="63.0" stroke="#DAA520" stroke-width="4"/>
<circle cx="463.4" cy="45.8" r="4.9" fill="#DAA520"/>
<text x="509.2" y="57.6" textLength="9.6" lengthAdjust="spacingAndGlyphs"><tspan font-style="italic">i</tspan></text>
<line x1="463.4" y1="77.5" x2="463.4" y2="111.9" stroke="#FFA500" stroke-width="4"/>
<circle cx="463.4" cy="94.7" r="4.9" fill="#FFA500"/>
<text x="509.2" y="106.5" textLength="15.5" lengthAdjust="spacingAndGlyphs"><tspan font-style="italic">o</tspan></text>
<line x1="463.4" y1="126.4" x2="463.4" y2="160.8" stroke="#DC143C" stroke-width="4"/>
<circle cx="463.4" cy="143.6" r="4.9" fill="#DC143C"/>
<text x="509.2" y="155.4" textLength="14.0" lengthAdjust="spacingAndGlyphs"><tspan font-style="italic">r</tspan></text>
<line x1="463.4" y1="175.3" x2="463.4" y2="209.7" stroke="#808080" stroke-width="4"/>
<circle cx="463.4" cy="192.5" r="4.9" fill="#808080"/>
<text x="509.2" y="204.3" textLength="84.6" lengthAdjust="spacingAndGlyphs"><tspan font-style="italic">uvm</tspan>2</text>
<line x1="463.4" y1="224.2" x2="463.4" y2="258.6" stroke="#A9A9A9" stroke-width="4"/>
<circle cx="463.4" cy="241.4" r="4.9" fill="#A9A9A9"/>
<text x="509.2" y="253.2" textLength="77.6" lengthAdjust="spacingAndGlyphs"><tspan font-style="italic">uvw</tspan>1</text>
<line x1="463.4" y1="273.1" x2="463.4" y2="307.5" stroke="#D3D3D3" stroke-width="4"/>
<circle cx="463.4" cy="290.3" r="4.9" fill="#D3D3D3"/>
<text x="509.2" y="302.1" textLength="79.8" lengthAdjust="spacingAndGlyphs"><tspan font-style="italic">uvw</tspan>2</text>
</g>
<g font-family='"Liberation Serif","DejaVu Serif",serif' font-size="34" fill="#000">
<text x="131.2" y="724.9" text-anchor="end">41.0</text>
<text x="131.2" y="613.1" text-anchor="end">41.5</text>
<text x="131.2" y="501.3" text-anchor="end">42.0</text>
<text x="131.2" y="389.6" text-anchor="end">42.5</text>
<text x="131.2" y="277.8" text-anchor="end">43.0</text>
<text x="131.2" y="166.0" text-anchor="end">43.5</text>
<text x="131.2" y="54.2" text-anchor="end">44.0</text>
<text x="131.2" y="1554.7" text-anchor="end">42.00</text>
<text x="131.2" y="1463.2" text-anchor="end">42.25</text>
<text x="131.2" y="1371.8" text-anchor="end">42.50</text>
<text x="131.2" y="1280.4" text-anchor="end">42.75</text>
<text x="131.2" y="1188.9" text-anchor="end">43.00</text>
<text x="131.2" y="1097.5" text-anchor="end">43.25</text>
<text x="131.2" y="1006.0" text-anchor="end">43.50</text>
<text x="131.2" y="914.6" text-anchor="end">43.75</text>
<text x="131.2" y="823.1" text-anchor="end">44.00</text>
<text x="154.5" y="766.8" text-anchor="middle" textLength="58.5" lengthAdjust="spacingAndGlyphs">−20</text>
<text x="291.6" y="766.8" text-anchor="middle">0</text>
<text x="428.5" y="766.8" text-anchor="middle">20</text>
<text x="565.5" y="766.8" text-anchor="middle">40</text>
<text x="702.4" y="766.8" text-anchor="middle">60</text>
<text x="839.4" y="766.8" text-anchor="middle">80</text>
<text x="976.4" y="766.8" text-anchor="middle">100</text>
<text x="154.5" y="1575.0" text-anchor="middle" textLength="58.5" lengthAdjust="spacingAndGlyphs">−20</text>
<text x="291.6" y="1575.0" text-anchor="middle">0</text>
<text x="428.5" y="1575.0" text-anchor="middle">20</text>
<text x="565.5" y="1575.0" text-anchor="middle">40</text>
<text x="702.4" y="1575.0" text-anchor="middle">60</text>
<text x="839.4" y="1575.0" text-anchor="middle">80</text>
<text x="976.4" y="1575.0" text-anchor="middle">100</text>
</g>
<g font-family='"Liberation Serif","DejaVu Serif",serif' fill="#000">
<text x="770.8" y="165" font-size="46" text-anchor="middle" textLength="124" lengthAdjust="spacingAndGlyphs">Flare I</text>
<text x="770.8" y="1005" font-size="46" text-anchor="middle" textLength="140" lengthAdjust="spacingAndGlyphs">Flare II</text>
<g font-size="42">
<text x="434.6" y="1621.3" font-style="italic" textLength="12" lengthAdjust="spacingAndGlyphs">t</text>
<text x="460.2" y="1625.6" textLength="28.5" lengthAdjust="spacingAndGlyphs">−</text>
<text x="500.0" y="1621.3" font-style="italic" textLength="12" lengthAdjust="spacingAndGlyphs">t</text>
<text x="513.2" y="1628.2" font-size="30" textLength="59" lengthAdjust="spacingAndGlyphs">peak</text>
<text x="586.3" y="1624.1" font-size="49.5">[</text>
<text x="598.4" y="1621.3" textLength="72.8" lengthAdjust="spacingAndGlyphs">days</text>
<text x="668.3" y="1624.1" font-size="49.5">]</text>
</g>
<g transform="translate(51.9,510.3) rotate(-90)" font-size="42"><text x="0.0" y="0.0" textLength="47.5" lengthAdjust="spacingAndGlyphs">log</text><text x="57.0" y="0.0" textLength="20.0" lengthAdjust="spacingAndGlyphs" font-style="italic">ν</text><text x="79.5" y="0.0" textLength="22.5" lengthAdjust="spacingAndGlyphs" font-style="italic">L</text><text x="106.8" y="6.9" textLength="14.6" lengthAdjust="spacingAndGlyphs" font-style="italic" font-size="30">ν</text><text x="125.0" y="9.5" textLength="17.5" lengthAdjust="spacingAndGlyphs" font-size="58">/</text><text x="146.0" y="1.0" textLength="12.5" lengthAdjust="spacingAndGlyphs" font-size="47">(</text><text x="159.0" y="0.0" textLength="49.0" lengthAdjust="spacingAndGlyphs">erg</text><text x="215.8" y="0.0" textLength="14.8" lengthAdjust="spacingAndGlyphs">s</text><text x="234.8" y="-12.8" textLength="18.0" lengthAdjust="spacingAndGlyphs" font-size="30">−</text><text x="255.5" y="-15.5" textLength="12.5" lengthAdjust="spacingAndGlyphs" font-size="30">1</text><text x="270.5" y="1.0" textLength="12.5" lengthAdjust="spacingAndGlyphs" font-size="47">)</text></g>
<g transform="translate(34.8,1318.6) rotate(-90)" font-size="42"><text x="0.0" y="0.0" textLength="47.5" lengthAdjust="spacingAndGlyphs">log</text><text x="57.0" y="0.0" textLength="20.0" lengthAdjust="spacingAndGlyphs" font-style="italic">ν</text><text x="79.5" y="0.0" textLength="22.5" lengthAdjust="spacingAndGlyphs" font-style="italic">L</text><text x="106.8" y="6.9" textLength="14.6" lengthAdjust="spacingAndGlyphs" font-style="italic" font-size="30">ν</text><text x="125.0" y="9.5" textLength="17.5" lengthAdjust="spacingAndGlyphs" font-size="58">/</text><text x="146.0" y="1.0" textLength="12.5" lengthAdjust="spacingAndGlyphs" font-size="47">(</text><text x="159.0" y="0.0" textLength="49.0" lengthAdjust="spacingAndGlyphs">erg</text><text x="215.8" y="0.0" textLength="14.8" lengthAdjust="spacingAndGlyphs">s</text><text x="234.8" y="-12.8" textLength="18.0" lengthAdjust="spacingAndGlyphs" font-size="30">−</text><text x="255.5" y="-15.5" textLength="12.5" lengthAdjust="spacingAndGlyphs" font-size="30">1</text><text x="270.5" y="1.0" textLength="12.5" lengthAdjust="spacingAndGlyphs" font-size="47">)</text></g>
</g>
</svg>
</body></html>
